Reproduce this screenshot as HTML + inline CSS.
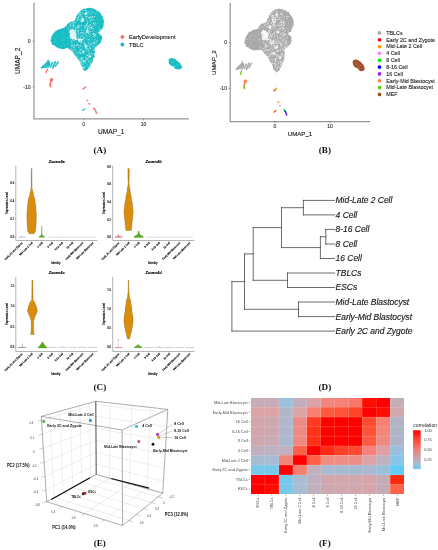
<!DOCTYPE html>
<html><head><meta charset="utf-8"><title>Figure</title>
<style>html,body{margin:0;padding:0;background:#fff}svg{display:block}</style></head>
<body><svg width="438" height="550" viewBox="0 0 438 550">
<defs><filter id="soft" x="0" y="0" width="438" height="550" filterUnits="userSpaceOnUse"><feGaussianBlur stdDeviation="0.4"/></filter></defs>
<rect width="438" height="550" fill="#fff"/>
<g filter="url(#soft)">
<path d="M50.3 40.4 L51.1 39.0 L51.1 38.3 L51.5 37.7 L51.2 36.1 L52.4 35.4 L52.9 34.0 L53.2 33.6 L53.8 33.1 L55.2 31.5 L55.2 31.2 L56.9 30.6 L57.2 30.1 L58.0 29.4 L59.3 29.4 L60.2 28.8 L61.1 28.7 L62.2 27.9 L63.6 28.0 L64.4 27.2 L65.5 26.9 L65.6 25.4 L66.8 24.9 L67.7 23.7 L68.4 23.4 L68.7 22.8 L69.9 22.5 L70.5 22.0 L71.0 21.5 L72.7 21.4 L73.2 21.0 L74.8 20.6 L74.9 19.5 L75.4 19.0 L75.8 17.8 L76.2 16.7 L76.2 16.1 L77.4 14.8 L77.6 13.4 L78.4 13.0 L79.4 11.9 L80.3 10.9 L80.8 10.8 L81.8 9.9 L82.5 9.4 L84.0 8.5 L84.8 9.0 L85.7 8.7 L86.6 8.2 L87.3 7.9 L87.8 8.3 L89.2 7.7 L90.1 7.9 L90.9 7.8 L92.0 8.3 L93.1 8.5 L93.6 8.6 L94.7 9.3 L96.2 10.0 L97.0 10.5 L97.3 11.0 L98.6 10.8 L98.6 11.4 L99.9 12.3 L100.0 13.3 L100.9 13.5 L101.2 14.7 L101.7 15.3 L102.6 16.3 L102.7 17.1 L102.8 18.0 L103.6 18.8 L103.6 20.4 L104.0 20.7 L104.2 22.3 L103.7 22.6 L103.6 24.3 L103.4 25.3 L103.7 26.2 L102.8 27.6 L102.8 28.1 L101.9 29.1 L101.2 29.7 L100.4 30.5 L99.4 30.8 L99.5 31.9 L98.2 32.5 L97.4 33.1 L98.6 33.2 L98.9 33.4 L100.2 33.9 L100.9 35.3 L101.3 35.5 L102.2 37.0 L102.2 37.6 L102.0 38.5 L101.6 39.7 L101.6 40.2 L101.0 41.5 L100.7 42.2 L100.2 43.3 L100.3 43.4 L98.7 44.3 L98.5 45.5 L97.1 45.6 L96.4 46.7 L95.7 46.8 L94.7 47.7 L94.5 48.9 L94.3 49.6 L94.2 50.1 L95.0 51.1 L94.9 52.5 L95.0 53.3 L94.4 54.3 L94.7 55.8 L94.6 57.1 L93.5 57.9 L93.2 58.6 L92.8 60.4 L93.0 61.3 L92.2 62.0 L92.2 62.6 L91.6 63.4 L90.6 64.2 L90.9 65.3 L90.4 66.0 L89.3 67.1 L89.2 67.2 L88.5 68.2 L87.5 69.7 L86.4 70.1 L86.2 71.1 L84.6 70.4 L83.9 70.4 L83.1 69.6 L82.7 68.7 L82.7 67.1 L81.6 66.3 L81.0 65.5 L80.5 63.9 L80.8 63.1 L80.0 62.3 L79.2 61.1 L79.2 61.1 L78.7 59.5 L77.5 59.1 L77.6 58.2 L76.8 57.5 L75.8 56.6 L75.2 55.5 L74.3 54.6 L74.4 53.9 L73.3 53.1 L72.9 52.1 L71.6 51.2 L70.8 50.8 L70.6 49.7 L69.4 49.4 L68.8 48.9 L67.8 47.8 L66.6 48.0 L65.8 48.2 L64.2 48.9 L63.3 49.1 L62.4 49.3 L61.0 49.0 L60.5 48.4 L59.6 48.2 L58.4 48.6 L57.6 47.6 L56.0 47.3 L55.8 46.6 L54.7 45.8 L53.7 45.1 L52.3 45.0 L52.0 44.2 L51.6 43.1 L51.0 41.7 L50.6 40.7Z" fill="#1fbec5"/>
<g fill="#fff" opacity="0.9"><circle cx="74.5" cy="36.2" r="0.40"/><circle cx="75.3" cy="35.0" r="0.52"/><circle cx="75.6" cy="34.0" r="0.46"/><circle cx="71.6" cy="32.0" r="0.31"/><circle cx="74.0" cy="33.6" r="0.53"/><circle cx="70.0" cy="30.6" r="0.40"/><circle cx="75.4" cy="33.4" r="0.46"/><circle cx="73.7" cy="31.7" r="0.30"/><circle cx="73.1" cy="34.5" r="0.56"/><circle cx="72.4" cy="36.4" r="0.59"/><circle cx="70.8" cy="34.4" r="0.49"/><circle cx="70.7" cy="33.5" r="0.52"/><circle cx="76.1" cy="38.8" r="0.41"/><circle cx="75.0" cy="38.4" r="0.42"/><circle cx="74.4" cy="38.0" r="0.45"/><circle cx="74.4" cy="36.9" r="0.54"/><circle cx="75.7" cy="38.5" r="0.68"/><circle cx="73.4" cy="31.1" r="0.40"/><circle cx="70.6" cy="35.2" r="0.60"/><circle cx="74.6" cy="32.9" r="0.51"/><circle cx="70.2" cy="36.8" r="0.32"/><circle cx="73.9" cy="32.1" r="0.67"/><circle cx="75.0" cy="38.0" r="0.56"/><circle cx="74.4" cy="33.9" r="0.67"/><circle cx="75.2" cy="33.8" r="0.37"/><circle cx="71.5" cy="30.6" r="0.66"/><circle cx="73.6" cy="33.5" r="0.35"/><circle cx="71.2" cy="31.9" r="0.60"/><circle cx="72.4" cy="29.5" r="0.55"/><circle cx="73.7" cy="37.9" r="0.38"/><circle cx="71.1" cy="34.9" r="0.41"/><circle cx="73.5" cy="31.9" r="0.57"/><circle cx="75.1" cy="37.6" r="0.69"/><circle cx="73.2" cy="34.4" r="0.64"/><circle cx="75.0" cy="35.2" r="0.45"/><circle cx="71.1" cy="30.4" r="0.62"/><circle cx="74.9" cy="39.3" r="0.35"/><circle cx="72.9" cy="35.2" r="0.42"/><circle cx="72.9" cy="33.0" r="0.51"/><circle cx="72.5" cy="32.4" r="0.46"/><circle cx="75.1" cy="36.3" r="0.50"/><circle cx="74.0" cy="33.2" r="0.38"/><circle cx="73.6" cy="38.4" r="0.63"/><circle cx="72.5" cy="37.9" r="0.46"/><circle cx="71.3" cy="31.1" r="0.55"/><circle cx="73.1" cy="33.0" r="0.30"/><circle cx="72.0" cy="33.7" r="0.46"/><circle cx="75.7" cy="35.3" r="0.59"/><circle cx="76.0" cy="37.0" r="0.50"/><circle cx="74.8" cy="35.9" r="0.56"/><circle cx="73.9" cy="33.5" r="0.55"/><circle cx="75.1" cy="38.0" r="0.61"/><circle cx="75.3" cy="35.5" r="0.44"/><circle cx="71.0" cy="36.6" r="0.65"/><circle cx="73.2" cy="30.9" r="0.63"/><circle cx="72.7" cy="34.1" r="0.32"/><circle cx="72.9" cy="37.0" r="0.47"/><circle cx="71.7" cy="36.1" r="0.31"/><circle cx="74.4" cy="33.4" r="0.58"/><circle cx="73.7" cy="31.5" r="0.38"/><circle cx="75.9" cy="32.1" r="0.33"/><circle cx="75.5" cy="34.7" r="0.45"/><circle cx="72.9" cy="36.9" r="0.37"/><circle cx="74.1" cy="36.6" r="0.63"/><circle cx="71.0" cy="35.6" r="0.39"/><circle cx="73.3" cy="31.1" r="0.62"/><circle cx="75.7" cy="32.7" r="0.39"/><circle cx="71.4" cy="33.7" r="0.60"/><circle cx="75.1" cy="31.3" r="0.55"/><circle cx="74.7" cy="35.5" r="0.40"/><circle cx="73.1" cy="30.7" r="0.36"/><circle cx="74.6" cy="33.0" r="0.60"/><circle cx="70.8" cy="36.7" r="0.59"/><circle cx="71.3" cy="30.4" r="0.46"/><circle cx="72.8" cy="30.3" r="0.37"/><circle cx="75.3" cy="39.2" r="0.55"/><circle cx="71.6" cy="37.9" r="0.35"/><circle cx="74.4" cy="30.3" r="0.46"/><circle cx="72.8" cy="33.2" r="0.37"/><circle cx="70.7" cy="37.7" r="0.49"/><circle cx="73.5" cy="31.5" r="0.59"/><circle cx="71.5" cy="35.4" r="0.66"/><circle cx="75.2" cy="38.1" r="0.43"/><circle cx="71.9" cy="35.3" r="0.67"/><circle cx="72.1" cy="38.4" r="0.60"/><circle cx="71.9" cy="30.6" r="0.49"/><circle cx="75.5" cy="38.6" r="0.31"/><circle cx="74.8" cy="36.4" r="0.64"/><circle cx="74.1" cy="33.3" r="0.55"/><circle cx="70.8" cy="29.9" r="0.67"/><circle cx="73.6" cy="32.9" r="0.54"/><circle cx="73.3" cy="34.7" r="0.32"/><circle cx="71.7" cy="33.6" r="0.38"/><circle cx="75.9" cy="33.7" r="0.56"/><circle cx="74.5" cy="37.0" r="0.59"/><circle cx="74.8" cy="31.9" r="0.69"/><circle cx="75.7" cy="38.1" r="0.32"/><circle cx="72.6" cy="33.1" r="0.69"/><circle cx="72.4" cy="30.6" r="0.46"/><circle cx="74.5" cy="38.4" r="0.31"/><circle cx="73.0" cy="30.2" r="0.62"/><circle cx="71.9" cy="36.8" r="0.43"/><circle cx="75.3" cy="38.1" r="0.42"/><circle cx="72.3" cy="31.8" r="0.52"/><circle cx="71.5" cy="32.8" r="0.61"/><circle cx="74.6" cy="37.9" r="0.58"/><circle cx="75.5" cy="32.3" r="0.36"/><circle cx="71.8" cy="34.7" r="0.34"/><circle cx="71.6" cy="35.2" r="0.32"/><circle cx="75.3" cy="36.0" r="0.43"/><circle cx="71.3" cy="32.9" r="0.43"/><circle cx="74.8" cy="34.5" r="0.51"/><circle cx="71.5" cy="32.7" r="0.33"/><circle cx="76.1" cy="38.9" r="0.69"/><circle cx="75.3" cy="38.8" r="0.67"/><circle cx="73.0" cy="35.2" r="0.70"/><circle cx="75.1" cy="36.5" r="0.60"/><circle cx="74.0" cy="33.4" r="0.49"/><circle cx="70.2" cy="30.8" r="0.57"/><circle cx="70.4" cy="33.5" r="0.59"/><circle cx="73.2" cy="32.0" r="0.34"/><circle cx="71.0" cy="35.8" r="0.51"/><circle cx="75.6" cy="35.9" r="0.37"/><circle cx="71.8" cy="38.0" r="0.58"/><circle cx="71.1" cy="38.5" r="0.54"/><circle cx="75.7" cy="38.5" r="0.47"/><circle cx="74.2" cy="34.9" r="0.68"/><circle cx="75.2" cy="36.8" r="0.63"/><circle cx="70.5" cy="37.0" r="0.61"/><circle cx="73.0" cy="34.3" r="0.46"/><circle cx="75.9" cy="37.5" r="0.53"/><circle cx="72.5" cy="31.3" r="0.42"/><circle cx="69.8" cy="32.4" r="0.65"/><circle cx="74.8" cy="39.3" r="0.52"/><circle cx="73.4" cy="35.0" r="0.51"/><circle cx="73.2" cy="37.7" r="0.68"/><circle cx="72.1" cy="35.8" r="0.42"/><circle cx="71.3" cy="34.5" r="0.53"/><circle cx="70.2" cy="35.9" r="0.70"/><circle cx="74.7" cy="35.1" r="0.45"/><circle cx="76.0" cy="38.8" r="0.64"/><circle cx="71.9" cy="34.1" r="0.62"/><circle cx="71.8" cy="37.0" r="0.49"/><circle cx="71.6" cy="34.0" r="0.35"/><circle cx="71.7" cy="33.6" r="0.31"/><circle cx="70.3" cy="32.0" r="0.64"/><circle cx="73.6" cy="32.3" r="0.70"/><circle cx="70.9" cy="34.6" r="0.60"/><circle cx="74.4" cy="33.8" r="0.61"/><circle cx="72.7" cy="36.7" r="0.50"/><circle cx="72.1" cy="36.8" r="0.63"/><circle cx="73.1" cy="32.9" r="0.68"/><circle cx="73.3" cy="33.6" r="0.57"/><circle cx="69.8" cy="32.0" r="0.41"/><circle cx="72.7" cy="37.5" r="0.64"/><circle cx="75.1" cy="36.3" r="0.33"/><circle cx="72.0" cy="36.2" r="0.42"/><circle cx="73.0" cy="33.6" r="0.66"/><circle cx="73.2" cy="31.5" r="0.60"/><circle cx="71.6" cy="34.3" r="0.30"/><circle cx="71.0" cy="34.9" r="0.48"/><circle cx="74.9" cy="38.0" r="0.39"/><circle cx="71.1" cy="36.6" r="0.46"/><circle cx="69.9" cy="31.3" r="0.52"/><circle cx="73.1" cy="35.6" r="0.36"/><circle cx="79.9" cy="39.3" r="0.58"/><circle cx="79.4" cy="38.9" r="0.45"/><circle cx="80.1" cy="39.6" r="0.54"/><circle cx="80.9" cy="40.6" r="0.32"/><circle cx="79.6" cy="41.4" r="0.56"/><circle cx="79.6" cy="40.4" r="0.43"/><circle cx="78.9" cy="38.5" r="0.40"/><circle cx="78.8" cy="40.6" r="0.58"/><circle cx="80.5" cy="41.4" r="0.39"/><circle cx="79.2" cy="40.8" r="0.65"/><circle cx="78.6" cy="39.4" r="0.55"/><circle cx="78.8" cy="39.0" r="0.57"/><circle cx="81.9" cy="39.6" r="0.54"/><circle cx="80.3" cy="37.9" r="0.43"/><circle cx="79.0" cy="39.1" r="0.61"/><circle cx="78.9" cy="39.4" r="0.41"/><circle cx="79.0" cy="39.9" r="0.67"/><circle cx="80.7" cy="39.1" r="0.57"/><circle cx="79.5" cy="40.5" r="0.43"/><circle cx="81.8" cy="39.6" r="0.62"/><circle cx="80.7" cy="42.2" r="0.54"/><circle cx="81.5" cy="39.9" r="0.57"/><circle cx="80.7" cy="40.5" r="0.53"/><circle cx="82.2" cy="19.4" r="0.66"/><circle cx="82.5" cy="20.1" r="0.32"/><circle cx="82.1" cy="18.4" r="0.39"/><circle cx="81.8" cy="20.1" r="0.40"/><circle cx="81.3" cy="20.0" r="0.49"/><circle cx="81.8" cy="18.1" r="0.45"/><circle cx="82.5" cy="20.1" r="0.52"/><circle cx="83.1" cy="20.9" r="0.57"/><circle cx="82.6" cy="18.3" r="0.67"/><circle cx="81.2" cy="21.5" r="0.64"/><circle cx="81.5" cy="21.7" r="0.36"/><circle cx="83.1" cy="19.4" r="0.48"/><circle cx="80.9" cy="20.4" r="0.41"/><circle cx="82.6" cy="21.3" r="0.54"/><circle cx="83.4" cy="20.6" r="0.45"/><circle cx="82.2" cy="21.7" r="0.48"/><circle cx="82.9" cy="20.4" r="0.47"/><circle cx="83.4" cy="19.5" r="0.54"/><circle cx="77.3" cy="26.0" r="0.31"/><circle cx="77.5" cy="26.1" r="0.44"/><circle cx="77.8" cy="27.3" r="0.40"/><circle cx="78.5" cy="25.6" r="0.36"/><circle cx="77.9" cy="27.5" r="0.44"/><circle cx="78.2" cy="25.6" r="0.42"/><circle cx="79.1" cy="25.9" r="0.58"/><circle cx="78.7" cy="26.2" r="0.32"/><circle cx="78.7" cy="27.6" r="0.37"/><circle cx="78.7" cy="26.1" r="0.44"/><circle cx="78.1" cy="27.4" r="0.37"/><circle cx="78.7" cy="27.2" r="0.48"/><circle cx="85.7" cy="45.8" r="0.61"/><circle cx="86.3" cy="44.7" r="0.48"/><circle cx="85.9" cy="46.1" r="0.67"/><circle cx="85.5" cy="44.4" r="0.31"/><circle cx="86.4" cy="46.4" r="0.62"/><circle cx="85.3" cy="44.6" r="0.69"/><circle cx="86.1" cy="46.6" r="0.67"/><circle cx="85.9" cy="45.4" r="0.30"/><circle cx="85.4" cy="44.9" r="0.61"/><circle cx="85.0" cy="46.1" r="0.51"/><circle cx="85.6" cy="46.9" r="0.67"/><circle cx="86.3" cy="46.5" r="0.58"/><circle cx="83.7" cy="52.0" r="0.40"/><circle cx="83.7" cy="51.5" r="0.52"/><circle cx="83.7" cy="51.8" r="0.69"/><circle cx="82.9" cy="51.6" r="0.54"/><circle cx="83.0" cy="52.0" r="0.48"/><circle cx="83.4" cy="51.6" r="0.37"/><circle cx="83.2" cy="51.5" r="0.38"/><circle cx="84.1" cy="51.4" r="0.36"/><circle cx="83.5" cy="53.1" r="0.61"/><circle cx="83.7" cy="52.7" r="0.43"/><circle cx="82.6" cy="51.1" r="0.44"/><circle cx="86.7" cy="31.2" r="0.36"/><circle cx="86.3" cy="30.5" r="0.38"/><circle cx="87.9" cy="31.4" r="0.38"/><circle cx="87.0" cy="32.6" r="0.53"/><circle cx="87.3" cy="30.9" r="0.38"/><circle cx="87.5" cy="29.9" r="0.61"/><circle cx="86.9" cy="31.9" r="0.54"/><circle cx="86.3" cy="31.4" r="0.33"/><circle cx="86.6" cy="30.9" r="0.41"/><circle cx="86.9" cy="32.5" r="0.39"/><circle cx="87.7" cy="30.8" r="0.51"/><circle cx="88.8" cy="56.4" r="0.42"/><circle cx="90.0" cy="56.8" r="0.55"/><circle cx="89.9" cy="55.8" r="0.32"/><circle cx="90.1" cy="55.9" r="0.62"/><circle cx="90.3" cy="56.9" r="0.34"/><circle cx="90.1" cy="56.9" r="0.40"/><circle cx="88.8" cy="56.5" r="0.35"/><circle cx="90.0" cy="56.2" r="0.67"/><circle cx="88.7" cy="57.1" r="0.40"/><circle cx="85.0" cy="14.0" r="0.45"/><circle cx="85.6" cy="13.7" r="0.41"/><circle cx="85.9" cy="13.8" r="0.67"/><circle cx="85.6" cy="14.3" r="0.69"/><circle cx="86.1" cy="13.2" r="0.41"/><circle cx="84.9" cy="13.5" r="0.48"/><circle cx="86.2" cy="13.5" r="0.67"/><circle cx="86.0" cy="12.3" r="0.47"/></g>
<g fill="#fff" opacity="0.8"><circle cx="81.5" cy="65.5" r="0.47"/><circle cx="72.7" cy="39.6" r="0.44"/><circle cx="72.9" cy="30.9" r="0.57"/><circle cx="82.0" cy="58.4" r="0.32"/><circle cx="83.5" cy="67.5" r="0.56"/><circle cx="88.6" cy="32.9" r="0.59"/><circle cx="82.5" cy="64.2" r="0.45"/><circle cx="86.6" cy="28.4" r="0.31"/><circle cx="86.6" cy="59.4" r="0.35"/><circle cx="93.1" cy="34.1" r="0.62"/><circle cx="93.7" cy="43.4" r="0.29"/><circle cx="86.1" cy="10.8" r="0.58"/><circle cx="77.8" cy="31.4" r="0.45"/><circle cx="88.3" cy="43.8" r="0.43"/><circle cx="88.2" cy="59.1" r="0.42"/><circle cx="83.5" cy="57.0" r="0.25"/><circle cx="71.6" cy="28.9" r="0.33"/><circle cx="77.1" cy="39.5" r="0.55"/><circle cx="87.3" cy="12.2" r="0.27"/><circle cx="88.1" cy="57.6" r="0.35"/><circle cx="87.7" cy="14.3" r="0.31"/><circle cx="75.9" cy="52.1" r="0.35"/><circle cx="73.4" cy="26.1" r="0.43"/><circle cx="91.8" cy="27.5" r="0.57"/><circle cx="68.6" cy="28.3" r="0.57"/><circle cx="70.7" cy="35.6" r="0.38"/><circle cx="92.2" cy="11.7" r="0.37"/><circle cx="92.2" cy="61.4" r="0.27"/><circle cx="86.6" cy="48.5" r="0.57"/><circle cx="75.3" cy="21.4" r="0.27"/><circle cx="99.7" cy="29.4" r="0.52"/><circle cx="76.1" cy="38.4" r="0.39"/><circle cx="79.7" cy="47.9" r="0.32"/><circle cx="72.4" cy="49.7" r="0.36"/><circle cx="78.0" cy="14.3" r="0.41"/><circle cx="90.6" cy="56.6" r="0.60"/><circle cx="95.1" cy="42.7" r="0.45"/><circle cx="83.5" cy="37.7" r="0.50"/><circle cx="86.1" cy="59.7" r="0.42"/><circle cx="82.5" cy="58.3" r="0.50"/><circle cx="84.4" cy="42.7" r="0.55"/><circle cx="87.3" cy="25.0" r="0.36"/><circle cx="87.2" cy="12.7" r="0.42"/><circle cx="90.5" cy="63.7" r="0.51"/><circle cx="87.9" cy="32.3" r="0.41"/><circle cx="88.5" cy="30.7" r="0.54"/><circle cx="92.0" cy="27.8" r="0.26"/><circle cx="77.8" cy="44.2" r="0.54"/><circle cx="88.6" cy="17.4" r="0.51"/><circle cx="90.5" cy="20.6" r="0.53"/><circle cx="83.6" cy="43.3" r="0.39"/><circle cx="76.3" cy="34.4" r="0.44"/><circle cx="82.2" cy="60.2" r="0.28"/><circle cx="87.3" cy="45.8" r="0.48"/><circle cx="74.5" cy="32.9" r="0.33"/><circle cx="92.0" cy="61.0" r="0.25"/><circle cx="90.7" cy="27.8" r="0.43"/><circle cx="89.6" cy="11.8" r="0.39"/><circle cx="85.4" cy="60.7" r="0.44"/><circle cx="77.1" cy="45.0" r="0.47"/><circle cx="76.2" cy="41.8" r="0.35"/><circle cx="83.2" cy="39.1" r="0.57"/><circle cx="92.2" cy="53.5" r="0.62"/><circle cx="75.3" cy="31.6" r="0.34"/><circle cx="84.8" cy="29.3" r="0.26"/><circle cx="73.0" cy="27.1" r="0.45"/><circle cx="74.8" cy="23.5" r="0.33"/><circle cx="81.8" cy="29.2" r="0.40"/><circle cx="88.4" cy="54.2" r="0.33"/><circle cx="96.7" cy="18.5" r="0.31"/><circle cx="86.6" cy="35.7" r="0.54"/><circle cx="89.3" cy="16.9" r="0.32"/><circle cx="92.1" cy="16.7" r="0.60"/><circle cx="94.4" cy="22.8" r="0.36"/><circle cx="74.8" cy="34.5" r="0.34"/><circle cx="78.2" cy="36.3" r="0.57"/><circle cx="89.1" cy="45.7" r="0.57"/><circle cx="79.5" cy="34.7" r="0.34"/><circle cx="97.0" cy="40.9" r="0.59"/><circle cx="92.4" cy="31.5" r="0.42"/><circle cx="78.3" cy="33.0" r="0.42"/><circle cx="71.9" cy="42.9" r="0.57"/><circle cx="90.9" cy="18.7" r="0.42"/><circle cx="88.0" cy="17.8" r="0.28"/><circle cx="87.4" cy="23.7" r="0.49"/><circle cx="76.8" cy="34.8" r="0.45"/><circle cx="84.7" cy="67.1" r="0.52"/><circle cx="72.7" cy="30.6" r="0.61"/><circle cx="83.8" cy="60.5" r="0.57"/><circle cx="93.4" cy="46.4" r="0.50"/><circle cx="78.0" cy="17.0" r="0.60"/><circle cx="78.6" cy="12.9" r="0.60"/><circle cx="90.4" cy="10.4" r="0.29"/><circle cx="70.7" cy="31.4" r="0.58"/><circle cx="70.9" cy="23.2" r="0.37"/><circle cx="83.9" cy="62.3" r="0.45"/><circle cx="96.5" cy="43.7" r="0.43"/><circle cx="83.9" cy="30.6" r="0.41"/><circle cx="92.7" cy="17.7" r="0.33"/><circle cx="71.7" cy="31.0" r="0.27"/><circle cx="78.6" cy="45.4" r="0.50"/><circle cx="72.9" cy="29.9" r="0.46"/><circle cx="77.1" cy="37.9" r="0.26"/><circle cx="77.2" cy="53.0" r="0.46"/><circle cx="80.5" cy="14.1" r="0.27"/><circle cx="89.0" cy="59.8" r="0.26"/><circle cx="72.3" cy="29.0" r="0.37"/><circle cx="83.1" cy="65.1" r="0.36"/><circle cx="88.2" cy="12.8" r="0.41"/><circle cx="88.9" cy="42.8" r="0.46"/><circle cx="87.3" cy="49.2" r="0.37"/><circle cx="78.3" cy="33.0" r="0.44"/><circle cx="85.8" cy="60.7" r="0.40"/><circle cx="81.7" cy="58.3" r="0.61"/><circle cx="74.5" cy="52.4" r="0.34"/><circle cx="91.9" cy="12.2" r="0.44"/><circle cx="85.9" cy="50.6" r="0.59"/><circle cx="93.8" cy="42.7" r="0.43"/><circle cx="92.0" cy="19.6" r="0.47"/><circle cx="94.8" cy="35.4" r="0.50"/><circle cx="89.2" cy="27.6" r="0.28"/><circle cx="92.5" cy="30.7" r="0.31"/><circle cx="81.5" cy="58.3" r="0.60"/><circle cx="85.9" cy="66.3" r="0.31"/><circle cx="83.2" cy="10.5" r="0.34"/><circle cx="83.8" cy="67.3" r="0.62"/><circle cx="70.3" cy="25.2" r="0.62"/><circle cx="77.5" cy="20.5" r="0.59"/><circle cx="87.6" cy="27.9" r="0.46"/><circle cx="81.0" cy="36.6" r="0.45"/><circle cx="71.9" cy="45.7" r="0.60"/><circle cx="86.7" cy="55.7" r="0.35"/><circle cx="88.9" cy="52.6" r="0.48"/><circle cx="81.4" cy="57.3" r="0.41"/><circle cx="72.4" cy="36.0" r="0.57"/><circle cx="72.1" cy="44.7" r="0.32"/><circle cx="93.2" cy="42.3" r="0.55"/><circle cx="81.5" cy="61.6" r="0.29"/><circle cx="67.9" cy="37.2" r="0.42"/><circle cx="83.8" cy="19.5" r="0.45"/><circle cx="81.0" cy="61.5" r="0.52"/><circle cx="82.7" cy="18.6" r="0.30"/><circle cx="73.6" cy="36.3" r="0.57"/><circle cx="79.1" cy="28.7" r="0.35"/><circle cx="91.9" cy="27.6" r="0.47"/><circle cx="77.0" cy="53.7" r="0.31"/><circle cx="83.1" cy="35.9" r="0.42"/><circle cx="84.8" cy="41.1" r="0.37"/><circle cx="85.6" cy="46.9" r="0.52"/><circle cx="77.2" cy="44.4" r="0.42"/><circle cx="83.0" cy="32.9" r="0.45"/><circle cx="73.6" cy="24.0" r="0.32"/><circle cx="86.8" cy="24.2" r="0.54"/><circle cx="78.0" cy="31.0" r="0.47"/><circle cx="89.1" cy="33.7" r="0.54"/><circle cx="79.9" cy="50.5" r="0.50"/><circle cx="72.1" cy="32.5" r="0.58"/><circle cx="93.3" cy="58.7" r="0.33"/><circle cx="90.9" cy="27.0" r="0.41"/><circle cx="71.4" cy="40.9" r="0.52"/><circle cx="71.0" cy="35.3" r="0.45"/><circle cx="88.3" cy="50.6" r="0.61"/><circle cx="100.0" cy="19.3" r="0.29"/><circle cx="86.5" cy="17.5" r="0.30"/><circle cx="77.7" cy="56.0" r="0.51"/><circle cx="77.1" cy="18.0" r="0.38"/><circle cx="72.1" cy="23.6" r="0.43"/><circle cx="83.1" cy="63.5" r="0.28"/><circle cx="84.7" cy="42.8" r="0.30"/><circle cx="78.6" cy="18.0" r="0.58"/><circle cx="78.2" cy="13.8" r="0.43"/><circle cx="84.5" cy="61.5" r="0.52"/><circle cx="94.5" cy="54.7" r="0.29"/><circle cx="80.0" cy="16.1" r="0.52"/><circle cx="89.3" cy="18.3" r="0.39"/><circle cx="78.2" cy="53.5" r="0.40"/><circle cx="78.9" cy="41.8" r="0.33"/><circle cx="89.4" cy="36.5" r="0.48"/><circle cx="85.9" cy="13.1" r="0.55"/><circle cx="93.5" cy="34.1" r="0.57"/><circle cx="90.3" cy="48.3" r="0.59"/><circle cx="93.3" cy="43.9" r="0.27"/><circle cx="81.9" cy="49.9" r="0.44"/><circle cx="86.5" cy="30.3" r="0.56"/><circle cx="74.6" cy="47.1" r="0.41"/><circle cx="70.5" cy="26.7" r="0.42"/><circle cx="81.1" cy="37.2" r="0.47"/><circle cx="85.1" cy="33.8" r="0.59"/><circle cx="84.3" cy="37.7" r="0.52"/><circle cx="81.3" cy="13.9" r="0.47"/><circle cx="83.9" cy="62.8" r="0.34"/><circle cx="76.8" cy="45.5" r="0.46"/><circle cx="85.6" cy="32.7" r="0.27"/><circle cx="86.8" cy="26.1" r="0.48"/><circle cx="81.3" cy="25.6" r="0.62"/><circle cx="82.7" cy="41.0" r="0.35"/><circle cx="72.1" cy="51.0" r="0.42"/><circle cx="86.5" cy="20.6" r="0.44"/><circle cx="89.1" cy="54.1" r="0.50"/><circle cx="80.5" cy="49.7" r="0.47"/><circle cx="82.7" cy="46.6" r="0.36"/><circle cx="94.9" cy="25.0" r="0.54"/><circle cx="84.9" cy="27.6" r="0.29"/><circle cx="95.8" cy="35.9" r="0.52"/><circle cx="87.8" cy="13.8" r="0.42"/><circle cx="66.4" cy="25.4" r="0.51"/><circle cx="85.8" cy="16.5" r="0.50"/><circle cx="87.2" cy="47.0" r="0.50"/><circle cx="84.5" cy="44.2" r="0.50"/><circle cx="85.4" cy="27.7" r="0.54"/><circle cx="90.2" cy="42.6" r="0.35"/><circle cx="96.0" cy="25.4" r="0.26"/><circle cx="87.4" cy="26.4" r="0.43"/><circle cx="81.3" cy="56.9" r="0.32"/><circle cx="92.9" cy="12.0" r="0.49"/><circle cx="94.8" cy="34.9" r="0.56"/><circle cx="78.4" cy="30.6" r="0.59"/><circle cx="78.8" cy="60.3" r="0.37"/><circle cx="73.6" cy="24.9" r="0.51"/><circle cx="90.0" cy="62.1" r="0.54"/><circle cx="90.1" cy="32.1" r="0.26"/><circle cx="92.9" cy="36.5" r="0.57"/><circle cx="88.6" cy="61.4" r="0.51"/><circle cx="81.3" cy="39.9" r="0.29"/><circle cx="74.5" cy="43.3" r="0.32"/><circle cx="78.5" cy="47.3" r="0.47"/><circle cx="80.8" cy="53.8" r="0.48"/><circle cx="76.2" cy="45.7" r="0.49"/><circle cx="73.1" cy="25.7" r="0.47"/><circle cx="81.9" cy="53.5" r="0.36"/><circle cx="94.1" cy="33.6" r="0.61"/><circle cx="83.2" cy="58.8" r="0.34"/><circle cx="80.4" cy="14.9" r="0.50"/><circle cx="76.7" cy="27.9" r="0.45"/><circle cx="87.7" cy="59.3" r="0.57"/><circle cx="72.0" cy="46.4" r="0.57"/><circle cx="74.7" cy="45.0" r="0.62"/><circle cx="88.2" cy="50.7" r="0.36"/><circle cx="77.3" cy="27.5" r="0.25"/><circle cx="82.8" cy="60.7" r="0.54"/><circle cx="71.2" cy="24.0" r="0.31"/><circle cx="75.1" cy="21.7" r="0.31"/><circle cx="85.4" cy="63.0" r="0.57"/><circle cx="87.7" cy="28.3" r="0.59"/><circle cx="90.5" cy="28.0" r="0.33"/><circle cx="88.3" cy="39.7" r="0.54"/><circle cx="81.6" cy="14.8" r="0.28"/><circle cx="74.1" cy="40.4" r="0.51"/><circle cx="85.5" cy="10.6" r="0.60"/><circle cx="82.0" cy="41.3" r="0.32"/><circle cx="74.5" cy="22.4" r="0.47"/><circle cx="90.0" cy="48.8" r="0.26"/><circle cx="74.0" cy="37.6" r="0.56"/><circle cx="85.0" cy="60.7" r="0.45"/><circle cx="84.7" cy="26.2" r="0.32"/><circle cx="82.8" cy="32.9" r="0.58"/><circle cx="79.9" cy="61.1" r="0.52"/><circle cx="86.8" cy="58.3" r="0.58"/><circle cx="70.6" cy="33.8" r="0.39"/><circle cx="72.8" cy="51.0" r="0.60"/><circle cx="72.7" cy="40.2" r="0.45"/><circle cx="82.8" cy="13.1" r="0.56"/><circle cx="97.1" cy="10.9" r="0.56"/><circle cx="85.8" cy="57.1" r="0.60"/><circle cx="82.6" cy="39.7" r="0.39"/><circle cx="94.6" cy="43.8" r="0.56"/><circle cx="81.5" cy="64.6" r="0.38"/><circle cx="79.2" cy="46.0" r="0.29"/><circle cx="90.0" cy="44.8" r="0.55"/><circle cx="81.9" cy="39.7" r="0.58"/><circle cx="89.7" cy="26.0" r="0.47"/><circle cx="92.9" cy="59.0" r="0.30"/><circle cx="71.8" cy="49.9" r="0.51"/><circle cx="91.5" cy="38.4" r="0.39"/><circle cx="87.9" cy="48.4" r="0.33"/><circle cx="91.9" cy="19.9" r="0.39"/><circle cx="88.3" cy="55.1" r="0.42"/><circle cx="94.3" cy="37.4" r="0.50"/><circle cx="95.2" cy="42.6" r="0.46"/><circle cx="87.6" cy="49.5" r="0.26"/><circle cx="96.6" cy="23.8" r="0.38"/><circle cx="84.8" cy="46.0" r="0.31"/><circle cx="95.3" cy="22.9" r="0.50"/><circle cx="100.0" cy="35.4" r="0.47"/><circle cx="91.0" cy="33.8" r="0.44"/><circle cx="75.5" cy="29.5" r="0.59"/><circle cx="92.2" cy="19.4" r="0.41"/><circle cx="95.2" cy="39.5" r="0.44"/><circle cx="83.6" cy="20.0" r="0.62"/><circle cx="92.2" cy="26.6" r="0.38"/><circle cx="90.8" cy="60.5" r="0.45"/><circle cx="76.0" cy="30.8" r="0.45"/><circle cx="89.0" cy="25.3" r="0.57"/><circle cx="94.0" cy="24.6" r="0.26"/><circle cx="79.5" cy="20.0" r="0.29"/><circle cx="85.2" cy="48.0" r="0.54"/><circle cx="82.5" cy="53.0" r="0.33"/><circle cx="86.8" cy="16.4" r="0.58"/><circle cx="79.6" cy="14.8" r="0.55"/><circle cx="81.4" cy="30.3" r="0.41"/><circle cx="90.8" cy="52.2" r="0.41"/><circle cx="100.1" cy="43.4" r="0.30"/><circle cx="91.2" cy="58.8" r="0.29"/><circle cx="74.2" cy="45.8" r="0.59"/><circle cx="90.9" cy="54.8" r="0.36"/><circle cx="83.1" cy="50.8" r="0.26"/><circle cx="80.9" cy="59.8" r="0.59"/><circle cx="85.5" cy="37.3" r="0.32"/><circle cx="75.8" cy="51.8" r="0.40"/><circle cx="85.0" cy="25.7" r="0.61"/><circle cx="91.4" cy="28.1" r="0.50"/><circle cx="88.3" cy="26.8" r="0.54"/><circle cx="90.3" cy="35.5" r="0.47"/><circle cx="92.7" cy="28.3" r="0.58"/><circle cx="93.5" cy="50.3" r="0.53"/><circle cx="81.6" cy="49.8" r="0.49"/><circle cx="80.8" cy="52.7" r="0.57"/><circle cx="86.8" cy="54.2" r="0.38"/><circle cx="80.2" cy="12.4" r="0.59"/><circle cx="94.3" cy="40.0" r="0.48"/><circle cx="91.3" cy="43.8" r="0.61"/><circle cx="75.0" cy="49.4" r="0.54"/><circle cx="80.4" cy="18.5" r="0.31"/><circle cx="89.2" cy="39.2" r="0.49"/><circle cx="87.2" cy="65.4" r="0.40"/><circle cx="79.7" cy="52.3" r="0.55"/><circle cx="91.9" cy="19.3" r="0.48"/><circle cx="75.4" cy="25.9" r="0.34"/><circle cx="89.5" cy="56.2" r="0.29"/><circle cx="89.0" cy="12.5" r="0.40"/><circle cx="94.5" cy="16.6" r="0.59"/><circle cx="79.9" cy="39.7" r="0.54"/><circle cx="89.4" cy="28.9" r="0.57"/><circle cx="86.1" cy="15.8" r="0.28"/><circle cx="82.1" cy="16.8" r="0.61"/><circle cx="73.8" cy="47.2" r="0.54"/><circle cx="83.8" cy="61.4" r="0.60"/><circle cx="78.8" cy="51.1" r="0.28"/><circle cx="81.1" cy="49.0" r="0.35"/><circle cx="79.1" cy="54.0" r="0.33"/><circle cx="87.5" cy="23.3" r="0.56"/><circle cx="78.6" cy="17.4" r="0.50"/><circle cx="81.0" cy="46.2" r="0.29"/><circle cx="73.0" cy="22.1" r="0.56"/><circle cx="74.5" cy="30.1" r="0.57"/><circle cx="75.7" cy="22.7" r="0.41"/><circle cx="71.0" cy="48.7" r="0.50"/><circle cx="93.9" cy="19.4" r="0.35"/><circle cx="85.8" cy="18.7" r="0.33"/><circle cx="86.9" cy="10.9" r="0.26"/><circle cx="90.4" cy="25.1" r="0.59"/><circle cx="90.1" cy="31.5" r="0.55"/><circle cx="93.8" cy="29.9" r="0.47"/><circle cx="90.2" cy="64.8" r="0.53"/><circle cx="75.7" cy="30.5" r="0.28"/><circle cx="73.8" cy="37.4" r="0.38"/><circle cx="86.8" cy="65.1" r="0.31"/><circle cx="92.4" cy="54.8" r="0.45"/><circle cx="95.7" cy="34.6" r="0.48"/><circle cx="86.5" cy="58.8" r="0.43"/><circle cx="73.5" cy="27.9" r="0.46"/><circle cx="74.8" cy="47.6" r="0.36"/><circle cx="70.7" cy="29.3" r="0.37"/><circle cx="75.7" cy="28.0" r="0.59"/><circle cx="86.1" cy="38.8" r="0.35"/><circle cx="76.1" cy="56.4" r="0.37"/><circle cx="71.2" cy="32.5" r="0.50"/><circle cx="83.3" cy="19.8" r="0.58"/><circle cx="67.4" cy="43.8" r="0.37"/><circle cx="84.3" cy="27.7" r="0.40"/><circle cx="74.5" cy="30.6" r="0.41"/><circle cx="90.9" cy="40.2" r="0.26"/><circle cx="94.3" cy="53.3" r="0.55"/><circle cx="87.6" cy="22.1" r="0.54"/><circle cx="76.1" cy="19.6" r="0.26"/><circle cx="89.9" cy="48.3" r="0.39"/><circle cx="81.3" cy="62.8" r="0.62"/><circle cx="77.7" cy="44.1" r="0.43"/><circle cx="73.1" cy="39.7" r="0.28"/><circle cx="93.9" cy="33.5" r="0.49"/><circle cx="93.3" cy="23.7" r="0.60"/><circle cx="88.4" cy="49.4" r="0.33"/><circle cx="93.2" cy="26.4" r="0.35"/><circle cx="90.3" cy="27.7" r="0.36"/><circle cx="74.9" cy="22.1" r="0.27"/><circle cx="83.6" cy="10.2" r="0.39"/><circle cx="90.4" cy="14.2" r="0.54"/><circle cx="89.8" cy="47.2" r="0.45"/><circle cx="91.3" cy="22.8" r="0.40"/><circle cx="80.5" cy="45.8" r="0.61"/><circle cx="95.4" cy="13.1" r="0.40"/><circle cx="80.5" cy="19.2" r="0.28"/><circle cx="81.8" cy="41.6" r="0.57"/><circle cx="89.3" cy="21.1" r="0.47"/><circle cx="91.4" cy="39.0" r="0.33"/><circle cx="96.1" cy="41.2" r="0.26"/><circle cx="77.3" cy="19.4" r="0.49"/><circle cx="87.3" cy="32.5" r="0.35"/><circle cx="88.2" cy="31.8" r="0.53"/><circle cx="98.9" cy="27.5" r="0.40"/><circle cx="96.0" cy="45.8" r="0.36"/><circle cx="82.9" cy="18.9" r="0.46"/><circle cx="75.1" cy="55.0" r="0.33"/><circle cx="87.5" cy="55.5" r="0.55"/><circle cx="87.3" cy="38.2" r="0.32"/><circle cx="81.1" cy="32.7" r="0.58"/><circle cx="90.7" cy="63.0" r="0.46"/><circle cx="90.7" cy="17.1" r="0.57"/><circle cx="74.0" cy="49.9" r="0.39"/><circle cx="90.0" cy="22.8" r="0.29"/><circle cx="78.1" cy="39.3" r="0.55"/><circle cx="96.3" cy="31.9" r="0.46"/><circle cx="72.4" cy="39.2" r="0.50"/><circle cx="92.7" cy="16.9" r="0.61"/><circle cx="85.5" cy="10.3" r="0.36"/><circle cx="89.7" cy="17.4" r="0.52"/><circle cx="86.6" cy="25.6" r="0.55"/><circle cx="92.8" cy="44.9" r="0.33"/><circle cx="79.7" cy="59.2" r="0.31"/><circle cx="89.9" cy="24.2" r="0.32"/></g>
<g fill="#fff" opacity="0.7"><circle cx="83.8" cy="68.5" r="0.34"/><circle cx="91.3" cy="44.2" r="0.29"/><circle cx="54.3" cy="41.3" r="0.24"/><circle cx="81.2" cy="35.3" r="0.34"/><circle cx="81.7" cy="43.3" r="0.43"/><circle cx="80.5" cy="15.4" r="0.42"/><circle cx="90.8" cy="31.2" r="0.31"/><circle cx="80.9" cy="32.7" r="0.37"/><circle cx="97.5" cy="37.2" r="0.37"/><circle cx="75.7" cy="31.5" r="0.24"/><circle cx="61.1" cy="38.1" r="0.27"/><circle cx="61.4" cy="46.4" r="0.27"/><circle cx="95.8" cy="13.5" r="0.26"/><circle cx="73.3" cy="21.5" r="0.41"/><circle cx="67.0" cy="26.9" r="0.25"/><circle cx="55.8" cy="39.8" r="0.38"/><circle cx="50.9" cy="39.2" r="0.32"/><circle cx="80.2" cy="34.9" r="0.43"/><circle cx="82.7" cy="35.5" r="0.44"/><circle cx="84.5" cy="68.8" r="0.36"/><circle cx="63.8" cy="39.8" r="0.37"/><circle cx="102.5" cy="18.6" r="0.25"/><circle cx="88.3" cy="66.5" r="0.41"/><circle cx="94.2" cy="46.6" r="0.40"/><circle cx="91.7" cy="47.3" r="0.22"/><circle cx="79.1" cy="19.2" r="0.34"/><circle cx="79.9" cy="57.9" r="0.38"/><circle cx="103.8" cy="20.0" r="0.30"/><circle cx="96.3" cy="13.4" r="0.30"/><circle cx="84.4" cy="14.0" r="0.40"/><circle cx="91.7" cy="27.3" r="0.24"/><circle cx="62.1" cy="28.8" r="0.28"/><circle cx="72.7" cy="25.0" r="0.42"/><circle cx="77.4" cy="32.3" r="0.28"/><circle cx="73.1" cy="23.6" r="0.33"/><circle cx="74.0" cy="24.6" r="0.20"/><circle cx="89.0" cy="66.2" r="0.24"/><circle cx="80.6" cy="62.9" r="0.24"/><circle cx="88.2" cy="68.5" r="0.25"/><circle cx="98.3" cy="16.0" r="0.21"/><circle cx="95.9" cy="12.0" r="0.31"/><circle cx="89.4" cy="53.0" r="0.28"/><circle cx="57.4" cy="34.8" r="0.29"/><circle cx="74.6" cy="26.4" r="0.32"/><circle cx="77.5" cy="57.4" r="0.22"/><circle cx="93.2" cy="23.5" r="0.38"/><circle cx="94.3" cy="54.3" r="0.44"/><circle cx="84.0" cy="19.6" r="0.25"/><circle cx="68.2" cy="29.9" r="0.23"/><circle cx="94.2" cy="43.0" r="0.25"/><circle cx="93.7" cy="41.8" r="0.40"/><circle cx="88.8" cy="35.2" r="0.29"/><circle cx="99.1" cy="19.4" r="0.23"/><circle cx="63.8" cy="32.7" r="0.29"/><circle cx="68.0" cy="40.5" r="0.35"/><circle cx="87.3" cy="20.1" r="0.38"/><circle cx="83.9" cy="18.2" r="0.35"/><circle cx="64.6" cy="45.1" r="0.43"/><circle cx="88.8" cy="43.2" r="0.34"/><circle cx="63.6" cy="37.5" r="0.21"/></g>
<path d="M40.5 68.0 L41.1 67.2 L41.9 66.5 L42.0 66.2 L42.8 65.3 L43.2 64.9 L44.4 64.2 L44.7 63.7 L45.4 63.0 L46.1 62.5 L47.0 61.6 L47.4 60.4 L47.7 59.8 L48.3 59.0 L48.5 57.9 L48.2 59.0 L48.5 59.7 L49.0 60.4 L49.2 61.4 L49.9 61.7 L50.3 62.5 L50.2 63.4 L50.2 64.1 L50.5 65.4 L49.7 66.0 L49.2 66.6 L49.2 67.8 L48.2 67.6 L47.1 67.7 L46.3 67.8 L45.6 68.1 L44.0 67.9 L43.5 68.1 L42.4 68.4 L41.3 68.4Z" fill="#1fbec5"/>
<path d="M50.4 67.0 L52.5 62.7" stroke="#1fbec5" stroke-width="1.50" stroke-linecap="round"/>
<path d="M52.7 68.0 L55.3 61.8" stroke="#1fbec5" stroke-width="1.70" stroke-linecap="round"/>
<path d="M55.3 66.3 L58.1 62.0" stroke="#1fbec5" stroke-width="1.50" stroke-linecap="round"/>
<path d="M47.0 66.5 L49.5 63.0" stroke="#1fbec5" stroke-width="1.20" stroke-linecap="round"/>
<path d="M44.6 66.9 L46.6 64.4" stroke="#fff" stroke-width="0.35" opacity="0.7"/>
<path d="M47.3 67.4 L48.4 65.6" stroke="#fff" stroke-width="0.35" opacity="0.7"/>
<path d="M168.6 59.2 L170.3 58.5 L171.8 57.8 L172.5 58.5 L173.9 58.6 L174.9 58.7 L175.8 59.5 L176.4 60.3 L177.2 60.7 L178.3 62.0 L179.2 62.3 L180.3 63.5 L180.6 64.5 L181.4 65.3 L182.2 67.2 L181.5 68.4 L179.8 69.3 L178.1 69.4 L177.4 69.3 L176.4 69.2 L175.0 68.8 L174.2 67.7 L173.8 66.2 L172.5 66.2 L171.1 65.7 L169.8 64.5 L168.9 63.4 L168.7 62.1 L168.8 61.4Z" fill="#1fbec5"/>
<circle cx="172.6" cy="62.6" r="0.45" fill="#fff" opacity="0.7"/>
<circle cx="175.6" cy="66.6" r="0.45" fill="#fff" opacity="0.7"/>
<circle cx="177.6" cy="64.2" r="0.45" fill="#fff" opacity="0.7"/>
<path d="M47.5 69.0 L46.9 70.6" stroke="#f8766d" stroke-width="1.20" stroke-linecap="round"/>
<path d="M46.8 70.8 L46.2 72.9" stroke="#f8766d" stroke-width="1.20" stroke-linecap="round"/>
<circle cx="51.6" cy="79.8" r="1.70" fill="#f8766d"/>
<path d="M51.3 80.5 L50.0 84.6" stroke="#f8766d" stroke-width="1.70" stroke-linecap="round"/>
<path d="M50.0 84.8 L50.5 86.8" stroke="#f8766d" stroke-width="1.50" stroke-linecap="round"/>
<path d="M85.7 86.7 L84.0 88.2" stroke="#f8766d" stroke-width="1.30" stroke-linecap="round"/>
<path d="M83.8 88.4 L82.9 89.1" stroke="#f8766d" stroke-width="1.30" stroke-linecap="round"/>
<circle cx="87.4" cy="100.3" r="0.90" fill="#f8766d"/>
<circle cx="89.3" cy="103.8" r="0.95" fill="#f8766d"/>
<path d="M93.6 108.1 L94.6 109.2" stroke="#f8766d" stroke-width="1.50" stroke-linecap="round"/>
<path d="M95.0 109.6 L95.5 110.4" stroke="#f8766d" stroke-width="1.50" stroke-linecap="round"/>
<circle cx="95.9" cy="111.5" r="0.80" fill="#1fbec5"/>
<circle cx="96.4" cy="113.0" r="1.05" fill="#f8766d"/>
<path d="M82.7 110.3 L84.4 109.2" stroke="#1fbec5" stroke-width="1.30" stroke-linecap="round"/>
<circle cx="85.2" cy="108.5" r="0.60" fill="#f8766d"/>
<path d="M34 2.7 V118.9 H188.8" fill="none" stroke="#969696" stroke-width="1.2"/>
<path d="M32.6 41.3 H34.2 M32.6 86.7 H34.2 M83.6 118.7 V120.4 M143.5 118.7 V120.4" stroke="#666" stroke-width="0.6"/>
<g font-family="Liberation Sans, sans-serif" font-size="5.1" fill="#333" stroke="#333" stroke-width="0.12">
<text x="30.7" y="43.3" text-anchor="end">0</text><text x="30.7" y="88.8" text-anchor="end">-10</text>
<text x="83.6" y="126.1" text-anchor="middle">0</text><text x="143.5" y="126.1" text-anchor="middle">10</text></g>
<g font-family="Liberation Sans, sans-serif" font-size="6.1" fill="#222" stroke="#222" stroke-width="0.15">
<text x="111.2" y="133.7" text-anchor="middle" font-size="6.6">UMAP_1</text>
<text transform="translate(19.7 60.9) rotate(-90)" text-anchor="middle" font-size="6.6">UMAP_2</text></g>
<circle cx="122.4" cy="37" r="1.95" fill="#f8766d"/><circle cx="122.4" cy="44.5" r="1.95" fill="#1fbec5"/>
<g font-family="Liberation Sans, sans-serif" font-size="5.7" fill="#222" stroke="#222" stroke-width="0.12"><text x="129" y="39">EarlyDevelopment</text><text x="129" y="46.5">TBLC</text></g>
<text x="99.9" y="152.6" text-anchor="middle" font-family="Liberation Serif, serif" font-size="9.1" font-weight="bold" fill="#111">(A)</text>
<path d="M245.0 41.7 L244.4 40.0 L245.3 39.7 L245.4 38.4 L245.6 37.8 L246.0 36.3 L246.4 35.5 L247.1 35.0 L248.1 33.8 L248.4 32.8 L248.7 31.9 L250.0 31.6 L250.7 31.7 L251.7 30.9 L252.4 30.0 L253.4 29.8 L254.5 30.2 L255.5 29.1 L256.6 29.2 L257.3 28.9 L258.1 27.9 L258.4 27.1 L259.6 25.4 L260.1 25.0 L260.9 24.1 L262.0 23.6 L263.3 23.2 L264.4 22.9 L265.9 21.9 L266.6 21.8 L267.1 20.6 L267.0 19.6 L267.8 18.6 L268.4 17.9 L268.8 16.7 L269.2 15.9 L269.4 14.6 L270.2 13.6 L270.6 12.5 L271.5 12.5 L272.3 10.9 L273.4 11.0 L274.3 10.0 L275.0 9.4 L276.0 9.3 L276.8 9.5 L277.7 8.9 L279.6 8.6 L280.2 9.2 L281.5 9.0 L282.1 9.0 L283.1 9.6 L284.0 10.2 L284.8 10.3 L285.6 10.4 L287.1 10.8 L287.3 11.8 L288.3 11.7 L289.4 12.5 L289.1 13.4 L290.3 14.4 L290.4 14.7 L290.8 15.6 L291.9 16.7 L292.4 17.5 L292.8 18.3 L292.8 18.8 L293.3 19.9 L293.1 21.0 L293.9 21.7 L293.6 22.9 L293.6 23.7 L293.8 24.9 L293.3 26.1 L292.6 27.3 L292.3 27.8 L291.8 28.8 L291.4 30.2 L291.1 31.2 L290.7 31.9 L289.4 32.1 L288.4 33.0 L287.7 34.1 L288.7 34.3 L289.4 35.3 L289.9 35.6 L290.9 36.6 L291.8 37.5 L291.3 38.5 L291.5 39.5 L291.6 40.7 L291.2 41.8 L290.9 43.0 L291.1 43.6 L290.1 44.2 L289.8 44.6 L288.8 45.8 L287.8 46.1 L287.5 47.0 L286.4 48.1 L285.7 48.0 L285.1 48.6 L284.3 49.9 L284.5 50.5 L285.2 51.8 L284.5 52.6 L284.9 53.7 L284.7 54.8 L284.4 55.7 L284.6 57.4 L284.1 58.4 L283.9 59.3 L283.8 60.3 L283.8 61.4 L282.9 62.0 L282.4 63.5 L282.6 64.5 L282.2 64.6 L281.7 66.1 L281.3 66.6 L280.5 67.4 L280.5 68.0 L279.7 69.1 L279.6 70.2 L279.0 71.1 L277.6 71.5 L276.8 72.4 L276.0 72.3 L275.6 71.7 L274.9 70.3 L273.9 70.2 L273.3 68.7 L272.8 67.4 L273.1 67.3 L272.5 65.4 L271.7 64.5 L271.6 63.8 L270.9 62.9 L270.1 62.1 L270.4 61.4 L269.1 60.4 L269.1 59.3 L268.7 58.7 L268.0 57.8 L267.7 57.3 L266.7 55.8 L265.9 54.8 L265.4 54.6 L264.3 53.5 L263.9 52.5 L263.4 52.2 L262.5 51.0 L261.8 50.1 L260.7 49.6 L259.7 50.0 L258.2 50.0 L257.3 50.2 L256.8 50.3 L254.9 50.2 L254.5 50.6 L253.5 50.3 L252.0 50.1 L251.7 49.6 L251.0 49.3 L249.4 48.8 L249.2 47.8 L248.2 47.5 L246.7 47.0 L246.0 46.0 L245.5 44.8 L245.2 44.1 L244.5 43.6 L244.3 41.8Z" fill="#a9a9a9"/>
<g fill="#fff" opacity="0.9"><circle cx="264.8" cy="39.1" r="0.56"/><circle cx="266.8" cy="35.4" r="0.57"/><circle cx="263.8" cy="33.2" r="0.50"/><circle cx="266.8" cy="32.2" r="0.60"/><circle cx="267.0" cy="34.6" r="0.57"/><circle cx="267.0" cy="39.4" r="0.35"/><circle cx="262.5" cy="34.4" r="0.49"/><circle cx="263.5" cy="30.5" r="0.52"/><circle cx="265.2" cy="34.4" r="0.48"/><circle cx="267.6" cy="33.6" r="0.56"/><circle cx="264.8" cy="36.0" r="0.67"/><circle cx="263.5" cy="37.1" r="0.62"/><circle cx="266.1" cy="34.5" r="0.64"/><circle cx="264.2" cy="35.9" r="0.64"/><circle cx="267.1" cy="36.9" r="0.42"/><circle cx="263.0" cy="35.1" r="0.39"/><circle cx="264.1" cy="34.2" r="0.43"/><circle cx="263.4" cy="39.7" r="0.67"/><circle cx="264.5" cy="37.0" r="0.67"/><circle cx="263.7" cy="31.4" r="0.40"/><circle cx="262.7" cy="37.4" r="0.45"/><circle cx="263.9" cy="38.7" r="0.39"/><circle cx="267.2" cy="37.0" r="0.46"/><circle cx="267.3" cy="34.0" r="0.65"/><circle cx="268.0" cy="35.6" r="0.58"/><circle cx="266.8" cy="39.4" r="0.67"/><circle cx="266.8" cy="40.6" r="0.42"/><circle cx="265.8" cy="37.4" r="0.45"/><circle cx="264.2" cy="32.2" r="0.68"/><circle cx="263.9" cy="35.3" r="0.66"/><circle cx="263.9" cy="34.1" r="0.67"/><circle cx="267.7" cy="38.3" r="0.47"/><circle cx="265.3" cy="32.9" r="0.63"/><circle cx="264.1" cy="33.4" r="0.56"/><circle cx="262.4" cy="33.7" r="0.67"/><circle cx="262.0" cy="31.9" r="0.38"/><circle cx="263.1" cy="34.8" r="0.40"/><circle cx="263.8" cy="33.0" r="0.40"/><circle cx="265.7" cy="33.9" r="0.45"/><circle cx="264.4" cy="38.5" r="0.35"/><circle cx="265.1" cy="39.2" r="0.44"/><circle cx="266.9" cy="36.7" r="0.46"/><circle cx="264.8" cy="36.8" r="0.43"/><circle cx="267.4" cy="36.6" r="0.54"/><circle cx="264.6" cy="34.7" r="0.51"/><circle cx="263.5" cy="38.7" r="0.30"/><circle cx="262.1" cy="34.0" r="0.37"/><circle cx="262.4" cy="37.4" r="0.34"/><circle cx="263.1" cy="35.4" r="0.52"/><circle cx="261.8" cy="32.5" r="0.67"/><circle cx="267.3" cy="35.8" r="0.57"/><circle cx="264.9" cy="31.8" r="0.35"/><circle cx="262.1" cy="32.6" r="0.32"/><circle cx="262.9" cy="34.3" r="0.55"/><circle cx="267.5" cy="39.8" r="0.59"/><circle cx="262.5" cy="31.5" r="0.63"/><circle cx="265.9" cy="32.6" r="0.45"/><circle cx="263.5" cy="34.9" r="0.47"/><circle cx="264.2" cy="38.7" r="0.62"/><circle cx="265.4" cy="35.3" r="0.41"/><circle cx="266.9" cy="40.6" r="0.39"/><circle cx="266.4" cy="37.7" r="0.56"/><circle cx="262.8" cy="32.4" r="0.53"/><circle cx="266.0" cy="36.9" r="0.60"/><circle cx="266.4" cy="35.3" r="0.32"/><circle cx="266.9" cy="38.9" r="0.63"/><circle cx="265.7" cy="30.8" r="0.38"/><circle cx="265.3" cy="32.3" r="0.68"/><circle cx="268.4" cy="39.7" r="0.49"/><circle cx="263.4" cy="32.6" r="0.63"/><circle cx="266.4" cy="33.3" r="0.66"/><circle cx="265.4" cy="34.7" r="0.47"/><circle cx="266.5" cy="35.1" r="0.56"/><circle cx="262.2" cy="37.7" r="0.41"/><circle cx="263.7" cy="36.0" r="0.46"/><circle cx="262.8" cy="38.4" r="0.58"/><circle cx="267.0" cy="35.0" r="0.48"/><circle cx="263.8" cy="35.3" r="0.40"/><circle cx="262.7" cy="35.3" r="0.38"/><circle cx="264.7" cy="36.4" r="0.42"/><circle cx="262.6" cy="36.7" r="0.64"/><circle cx="262.9" cy="36.8" r="0.56"/><circle cx="267.7" cy="37.5" r="0.42"/><circle cx="263.5" cy="30.5" r="0.65"/><circle cx="262.8" cy="33.6" r="0.43"/><circle cx="263.2" cy="37.9" r="0.44"/><circle cx="264.5" cy="34.8" r="0.63"/><circle cx="262.3" cy="32.0" r="0.54"/><circle cx="264.0" cy="31.1" r="0.54"/><circle cx="264.9" cy="38.7" r="0.67"/><circle cx="262.4" cy="33.5" r="0.69"/><circle cx="266.4" cy="39.5" r="0.54"/><circle cx="266.4" cy="35.8" r="0.39"/><circle cx="262.9" cy="31.0" r="0.57"/><circle cx="262.3" cy="36.9" r="0.46"/><circle cx="264.2" cy="35.3" r="0.45"/><circle cx="262.9" cy="32.7" r="0.51"/><circle cx="264.2" cy="35.7" r="0.34"/><circle cx="265.0" cy="35.8" r="0.61"/><circle cx="265.5" cy="37.7" r="0.59"/><circle cx="264.8" cy="31.7" r="0.36"/><circle cx="263.7" cy="36.0" r="0.55"/><circle cx="264.5" cy="31.9" r="0.42"/><circle cx="266.1" cy="35.3" r="0.68"/><circle cx="263.9" cy="33.9" r="0.67"/><circle cx="265.7" cy="31.5" r="0.61"/><circle cx="265.9" cy="38.8" r="0.66"/><circle cx="266.5" cy="39.4" r="0.33"/><circle cx="265.2" cy="36.7" r="0.47"/><circle cx="264.4" cy="38.6" r="0.37"/><circle cx="266.2" cy="33.5" r="0.66"/><circle cx="261.6" cy="33.0" r="0.62"/><circle cx="267.8" cy="34.6" r="0.66"/><circle cx="261.8" cy="32.8" r="0.38"/><circle cx="264.9" cy="33.3" r="0.56"/><circle cx="265.1" cy="34.6" r="0.67"/><circle cx="264.7" cy="34.3" r="0.69"/><circle cx="265.5" cy="35.8" r="0.48"/><circle cx="267.1" cy="37.1" r="0.36"/><circle cx="265.6" cy="31.7" r="0.44"/><circle cx="265.5" cy="33.0" r="0.48"/><circle cx="264.7" cy="34.8" r="0.41"/><circle cx="262.9" cy="38.2" r="0.68"/><circle cx="267.3" cy="36.9" r="0.31"/><circle cx="263.5" cy="39.1" r="0.69"/><circle cx="265.3" cy="36.3" r="0.57"/><circle cx="263.1" cy="37.8" r="0.45"/><circle cx="267.5" cy="35.2" r="0.57"/><circle cx="265.4" cy="36.0" r="0.48"/><circle cx="264.4" cy="35.6" r="0.66"/><circle cx="266.7" cy="37.2" r="0.68"/><circle cx="265.8" cy="35.1" r="0.69"/><circle cx="265.8" cy="38.4" r="0.58"/><circle cx="264.0" cy="38.7" r="0.44"/><circle cx="262.4" cy="37.3" r="0.56"/><circle cx="264.3" cy="35.6" r="0.70"/><circle cx="267.2" cy="34.6" r="0.66"/><circle cx="265.5" cy="34.6" r="0.56"/><circle cx="267.0" cy="39.7" r="0.57"/><circle cx="266.2" cy="34.6" r="0.32"/><circle cx="264.6" cy="31.6" r="0.68"/><circle cx="263.9" cy="36.7" r="0.59"/><circle cx="263.7" cy="31.2" r="0.54"/><circle cx="264.5" cy="31.4" r="0.31"/><circle cx="263.7" cy="35.4" r="0.66"/><circle cx="268.4" cy="39.5" r="0.56"/><circle cx="265.5" cy="32.7" r="0.54"/><circle cx="262.5" cy="33.5" r="0.63"/><circle cx="265.4" cy="37.9" r="0.49"/><circle cx="263.3" cy="35.6" r="0.53"/><circle cx="263.1" cy="39.2" r="0.69"/><circle cx="262.6" cy="32.9" r="0.62"/><circle cx="266.6" cy="32.7" r="0.53"/><circle cx="263.0" cy="39.4" r="0.53"/><circle cx="265.0" cy="32.1" r="0.46"/><circle cx="264.7" cy="34.2" r="0.37"/><circle cx="262.8" cy="37.7" r="0.67"/><circle cx="267.4" cy="36.8" r="0.62"/><circle cx="262.3" cy="32.6" r="0.58"/><circle cx="267.0" cy="32.4" r="0.37"/><circle cx="264.2" cy="39.1" r="0.30"/><circle cx="267.7" cy="33.6" r="0.53"/><circle cx="264.7" cy="31.7" r="0.68"/><circle cx="267.7" cy="35.1" r="0.68"/><circle cx="264.8" cy="31.2" r="0.62"/><circle cx="271.8" cy="43.2" r="0.41"/><circle cx="270.8" cy="41.2" r="0.35"/><circle cx="272.0" cy="41.4" r="0.38"/><circle cx="270.3" cy="40.7" r="0.61"/><circle cx="270.6" cy="40.2" r="0.55"/><circle cx="272.2" cy="43.2" r="0.56"/><circle cx="270.5" cy="39.5" r="0.61"/><circle cx="271.7" cy="43.8" r="0.69"/><circle cx="271.3" cy="44.0" r="0.59"/><circle cx="270.8" cy="41.9" r="0.31"/><circle cx="272.4" cy="43.5" r="0.60"/><circle cx="270.6" cy="42.8" r="0.69"/><circle cx="272.3" cy="41.5" r="0.42"/><circle cx="270.3" cy="42.2" r="0.68"/><circle cx="273.0" cy="40.8" r="0.64"/><circle cx="270.6" cy="40.5" r="0.53"/><circle cx="272.9" cy="41.8" r="0.34"/><circle cx="273.1" cy="42.0" r="0.61"/><circle cx="270.9" cy="40.7" r="0.34"/><circle cx="270.7" cy="41.3" r="0.46"/><circle cx="272.2" cy="43.3" r="0.43"/><circle cx="273.1" cy="42.4" r="0.44"/><circle cx="272.3" cy="41.0" r="0.47"/><circle cx="274.1" cy="19.6" r="0.41"/><circle cx="273.5" cy="22.8" r="0.33"/><circle cx="274.3" cy="21.9" r="0.37"/><circle cx="273.8" cy="21.5" r="0.58"/><circle cx="273.5" cy="20.0" r="0.50"/><circle cx="272.6" cy="20.7" r="0.46"/><circle cx="272.3" cy="19.7" r="0.44"/><circle cx="273.1" cy="21.2" r="0.60"/><circle cx="272.7" cy="21.2" r="0.44"/><circle cx="272.6" cy="19.2" r="0.68"/><circle cx="272.4" cy="19.3" r="0.34"/><circle cx="272.8" cy="20.6" r="0.30"/><circle cx="273.2" cy="21.8" r="0.63"/><circle cx="274.2" cy="20.4" r="0.43"/><circle cx="272.4" cy="19.8" r="0.41"/><circle cx="272.7" cy="19.7" r="0.51"/><circle cx="274.3" cy="20.0" r="0.47"/><circle cx="273.3" cy="22.5" r="0.61"/><circle cx="270.6" cy="26.4" r="0.53"/><circle cx="270.0" cy="27.5" r="0.43"/><circle cx="269.9" cy="25.6" r="0.64"/><circle cx="270.0" cy="27.1" r="0.56"/><circle cx="269.3" cy="26.1" r="0.63"/><circle cx="270.8" cy="27.2" r="0.66"/><circle cx="270.0" cy="28.1" r="0.57"/><circle cx="269.4" cy="28.3" r="0.32"/><circle cx="270.1" cy="28.7" r="0.52"/><circle cx="270.5" cy="28.3" r="0.66"/><circle cx="270.7" cy="27.2" r="0.40"/><circle cx="269.5" cy="26.3" r="0.31"/><circle cx="277.1" cy="46.7" r="0.66"/><circle cx="276.1" cy="46.4" r="0.42"/><circle cx="276.7" cy="45.9" r="0.32"/><circle cx="276.7" cy="47.7" r="0.65"/><circle cx="275.8" cy="46.4" r="0.47"/><circle cx="276.2" cy="46.6" r="0.57"/><circle cx="276.0" cy="47.7" r="0.42"/><circle cx="277.2" cy="45.9" r="0.62"/><circle cx="276.6" cy="48.2" r="0.69"/><circle cx="277.0" cy="45.3" r="0.45"/><circle cx="277.4" cy="47.0" r="0.68"/><circle cx="277.0" cy="45.6" r="0.30"/><circle cx="274.0" cy="54.0" r="0.64"/><circle cx="274.8" cy="54.7" r="0.66"/><circle cx="273.8" cy="53.8" r="0.57"/><circle cx="274.9" cy="52.9" r="0.39"/><circle cx="275.1" cy="53.3" r="0.31"/><circle cx="274.2" cy="52.3" r="0.40"/><circle cx="274.0" cy="53.8" r="0.57"/><circle cx="274.8" cy="53.7" r="0.41"/><circle cx="275.0" cy="54.5" r="0.38"/><circle cx="274.1" cy="51.8" r="0.50"/><circle cx="274.0" cy="52.2" r="0.41"/><circle cx="278.2" cy="32.9" r="0.42"/><circle cx="278.0" cy="33.0" r="0.54"/><circle cx="277.9" cy="32.9" r="0.34"/><circle cx="278.2" cy="32.9" r="0.39"/><circle cx="278.4" cy="31.2" r="0.48"/><circle cx="278.3" cy="32.3" r="0.36"/><circle cx="277.4" cy="32.0" r="0.56"/><circle cx="278.0" cy="31.4" r="0.44"/><circle cx="277.7" cy="31.2" r="0.54"/><circle cx="278.0" cy="31.8" r="0.30"/><circle cx="277.3" cy="31.7" r="0.62"/><circle cx="279.4" cy="58.0" r="0.54"/><circle cx="280.6" cy="58.6" r="0.37"/><circle cx="280.5" cy="57.9" r="0.51"/><circle cx="279.7" cy="58.7" r="0.62"/><circle cx="280.6" cy="57.2" r="0.59"/><circle cx="279.4" cy="58.4" r="0.31"/><circle cx="280.1" cy="58.3" r="0.53"/><circle cx="280.7" cy="57.3" r="0.33"/><circle cx="279.5" cy="56.9" r="0.47"/><circle cx="276.9" cy="15.3" r="0.45"/><circle cx="276.8" cy="13.7" r="0.64"/><circle cx="276.5" cy="14.3" r="0.56"/><circle cx="276.3" cy="15.1" r="0.48"/><circle cx="276.5" cy="14.9" r="0.57"/><circle cx="277.2" cy="14.1" r="0.56"/><circle cx="276.9" cy="14.4" r="0.46"/><circle cx="275.9" cy="13.8" r="0.60"/></g>
<g fill="#fff" opacity="0.8"><circle cx="282.9" cy="62.4" r="0.56"/><circle cx="264.0" cy="51.3" r="0.53"/><circle cx="267.5" cy="51.9" r="0.39"/><circle cx="272.5" cy="53.7" r="0.50"/><circle cx="264.5" cy="40.1" r="0.38"/><circle cx="275.5" cy="39.6" r="0.60"/><circle cx="275.6" cy="49.0" r="0.45"/><circle cx="278.4" cy="19.4" r="0.45"/><circle cx="269.4" cy="56.7" r="0.48"/><circle cx="278.2" cy="47.7" r="0.40"/><circle cx="278.8" cy="14.9" r="0.34"/><circle cx="277.5" cy="66.9" r="0.51"/><circle cx="265.5" cy="45.8" r="0.32"/><circle cx="274.3" cy="46.3" r="0.51"/><circle cx="277.7" cy="35.3" r="0.37"/><circle cx="275.7" cy="25.3" r="0.35"/><circle cx="284.7" cy="30.9" r="0.52"/><circle cx="280.5" cy="38.2" r="0.54"/><circle cx="271.8" cy="35.9" r="0.48"/><circle cx="263.9" cy="48.7" r="0.33"/><circle cx="289.1" cy="16.3" r="0.38"/><circle cx="280.3" cy="28.4" r="0.60"/><circle cx="276.3" cy="56.1" r="0.35"/><circle cx="276.8" cy="41.3" r="0.47"/><circle cx="276.5" cy="36.2" r="0.39"/><circle cx="275.4" cy="17.2" r="0.40"/><circle cx="283.2" cy="50.8" r="0.28"/><circle cx="271.9" cy="37.4" r="0.56"/><circle cx="275.8" cy="47.8" r="0.58"/><circle cx="279.8" cy="56.5" r="0.40"/><circle cx="266.6" cy="49.8" r="0.55"/><circle cx="267.3" cy="32.9" r="0.35"/><circle cx="277.0" cy="55.2" r="0.51"/><circle cx="268.6" cy="27.0" r="0.61"/><circle cx="272.2" cy="35.1" r="0.28"/><circle cx="273.2" cy="19.3" r="0.45"/><circle cx="284.9" cy="34.4" r="0.51"/><circle cx="272.4" cy="24.8" r="0.58"/><circle cx="274.7" cy="26.9" r="0.50"/><circle cx="270.7" cy="26.4" r="0.34"/><circle cx="268.2" cy="23.7" r="0.59"/><circle cx="279.0" cy="13.9" r="0.28"/><circle cx="269.6" cy="58.1" r="0.33"/><circle cx="269.5" cy="55.2" r="0.57"/><circle cx="266.0" cy="28.6" r="0.43"/><circle cx="274.1" cy="47.9" r="0.54"/><circle cx="273.3" cy="12.6" r="0.41"/><circle cx="275.7" cy="21.6" r="0.58"/><circle cx="277.8" cy="41.4" r="0.36"/><circle cx="262.9" cy="27.1" r="0.49"/><circle cx="280.6" cy="50.9" r="0.26"/><circle cx="283.6" cy="51.6" r="0.50"/><circle cx="275.4" cy="60.9" r="0.61"/><circle cx="277.4" cy="36.2" r="0.45"/><circle cx="284.4" cy="50.5" r="0.54"/><circle cx="268.6" cy="46.1" r="0.34"/><circle cx="277.2" cy="11.8" r="0.45"/><circle cx="282.0" cy="64.2" r="0.43"/><circle cx="276.4" cy="31.0" r="0.40"/><circle cx="277.9" cy="55.1" r="0.57"/><circle cx="269.1" cy="45.0" r="0.48"/><circle cx="280.7" cy="45.1" r="0.42"/><circle cx="280.2" cy="37.5" r="0.38"/><circle cx="281.0" cy="22.7" r="0.39"/><circle cx="272.2" cy="52.2" r="0.55"/><circle cx="278.9" cy="23.6" r="0.30"/><circle cx="276.6" cy="32.4" r="0.52"/><circle cx="265.6" cy="51.3" r="0.38"/><circle cx="267.7" cy="21.5" r="0.53"/><circle cx="274.8" cy="42.7" r="0.56"/><circle cx="266.5" cy="34.9" r="0.41"/><circle cx="263.1" cy="29.1" r="0.25"/><circle cx="274.7" cy="47.7" r="0.62"/><circle cx="289.4" cy="30.3" r="0.29"/><circle cx="263.4" cy="41.9" r="0.50"/><circle cx="277.7" cy="13.1" r="0.40"/><circle cx="274.5" cy="33.5" r="0.53"/><circle cx="282.5" cy="16.0" r="0.42"/><circle cx="281.0" cy="57.0" r="0.50"/><circle cx="271.3" cy="59.8" r="0.48"/><circle cx="277.8" cy="45.7" r="0.53"/><circle cx="281.4" cy="37.7" r="0.54"/><circle cx="272.2" cy="54.3" r="0.59"/><circle cx="275.7" cy="19.6" r="0.59"/><circle cx="265.5" cy="23.3" r="0.27"/><circle cx="272.1" cy="34.4" r="0.55"/><circle cx="264.2" cy="33.0" r="0.53"/><circle cx="283.4" cy="28.4" r="0.30"/><circle cx="262.3" cy="23.2" r="0.51"/><circle cx="282.1" cy="55.3" r="0.45"/><circle cx="281.6" cy="25.1" r="0.45"/><circle cx="272.7" cy="42.2" r="0.40"/><circle cx="281.2" cy="41.4" r="0.26"/><circle cx="274.0" cy="45.7" r="0.53"/><circle cx="262.5" cy="33.3" r="0.48"/><circle cx="273.8" cy="25.2" r="0.54"/><circle cx="275.8" cy="20.0" r="0.43"/><circle cx="283.8" cy="29.4" r="0.41"/><circle cx="273.0" cy="29.0" r="0.48"/><circle cx="272.2" cy="17.9" r="0.27"/><circle cx="283.7" cy="23.0" r="0.59"/><circle cx="270.1" cy="47.7" r="0.38"/><circle cx="279.7" cy="19.2" r="0.35"/><circle cx="276.7" cy="68.9" r="0.25"/><circle cx="274.6" cy="37.8" r="0.31"/><circle cx="287.0" cy="45.1" r="0.53"/><circle cx="266.4" cy="53.2" r="0.51"/><circle cx="283.5" cy="21.8" r="0.60"/><circle cx="273.3" cy="15.6" r="0.59"/><circle cx="275.1" cy="43.0" r="0.50"/><circle cx="279.2" cy="32.1" r="0.53"/><circle cx="275.2" cy="19.4" r="0.47"/><circle cx="270.0" cy="42.8" r="0.31"/><circle cx="266.8" cy="26.4" r="0.50"/><circle cx="284.7" cy="34.8" r="0.60"/><circle cx="266.8" cy="39.9" r="0.36"/><circle cx="283.6" cy="49.2" r="0.56"/><circle cx="274.0" cy="21.6" r="0.49"/><circle cx="275.4" cy="60.9" r="0.55"/><circle cx="278.8" cy="54.3" r="0.26"/><circle cx="273.1" cy="39.6" r="0.26"/><circle cx="285.0" cy="42.9" r="0.52"/><circle cx="282.6" cy="48.3" r="0.44"/><circle cx="283.3" cy="56.7" r="0.36"/><circle cx="288.2" cy="23.7" r="0.43"/><circle cx="282.1" cy="19.8" r="0.27"/><circle cx="266.7" cy="45.8" r="0.58"/><circle cx="276.8" cy="41.5" r="0.39"/><circle cx="274.7" cy="52.7" r="0.57"/><circle cx="269.8" cy="50.4" r="0.38"/><circle cx="271.6" cy="46.6" r="0.44"/><circle cx="273.0" cy="56.0" r="0.42"/><circle cx="280.8" cy="43.4" r="0.60"/><circle cx="269.3" cy="36.8" r="0.53"/><circle cx="268.2" cy="57.4" r="0.37"/><circle cx="263.6" cy="42.9" r="0.46"/><circle cx="268.5" cy="26.9" r="0.62"/><circle cx="274.8" cy="52.5" r="0.41"/><circle cx="276.3" cy="27.7" r="0.31"/><circle cx="268.4" cy="34.7" r="0.46"/><circle cx="260.8" cy="46.9" r="0.50"/><circle cx="273.6" cy="18.0" r="0.45"/><circle cx="277.3" cy="51.7" r="0.58"/><circle cx="289.8" cy="42.2" r="0.47"/><circle cx="279.0" cy="66.7" r="0.53"/><circle cx="265.3" cy="22.7" r="0.42"/><circle cx="276.5" cy="51.3" r="0.42"/><circle cx="266.4" cy="54.3" r="0.32"/><circle cx="287.7" cy="37.0" r="0.48"/><circle cx="281.9" cy="23.0" r="0.58"/><circle cx="283.3" cy="33.6" r="0.48"/><circle cx="276.5" cy="54.3" r="0.36"/><circle cx="269.3" cy="32.7" r="0.59"/><circle cx="280.8" cy="62.5" r="0.53"/><circle cx="281.1" cy="55.6" r="0.33"/><circle cx="283.0" cy="44.9" r="0.49"/><circle cx="274.6" cy="37.1" r="0.56"/><circle cx="284.3" cy="22.2" r="0.57"/><circle cx="276.0" cy="14.6" r="0.54"/><circle cx="267.3" cy="22.3" r="0.45"/><circle cx="272.7" cy="49.2" r="0.49"/><circle cx="273.1" cy="34.8" r="0.32"/><circle cx="278.3" cy="50.7" r="0.54"/><circle cx="285.0" cy="31.4" r="0.45"/><circle cx="278.4" cy="33.7" r="0.25"/><circle cx="282.1" cy="63.5" r="0.43"/><circle cx="271.4" cy="48.3" r="0.38"/><circle cx="281.7" cy="22.8" r="0.36"/><circle cx="271.9" cy="35.4" r="0.40"/><circle cx="277.8" cy="32.7" r="0.57"/><circle cx="267.2" cy="56.4" r="0.57"/><circle cx="277.7" cy="29.7" r="0.43"/><circle cx="268.6" cy="26.4" r="0.33"/><circle cx="282.7" cy="53.3" r="0.34"/><circle cx="275.7" cy="58.6" r="0.51"/><circle cx="270.6" cy="35.2" r="0.61"/><circle cx="279.7" cy="56.2" r="0.56"/><circle cx="265.5" cy="47.6" r="0.61"/><circle cx="264.0" cy="37.0" r="0.39"/><circle cx="286.1" cy="38.0" r="0.30"/><circle cx="270.7" cy="48.7" r="0.45"/><circle cx="278.7" cy="50.2" r="0.47"/><circle cx="281.9" cy="40.7" r="0.25"/><circle cx="276.6" cy="15.8" r="0.43"/><circle cx="281.4" cy="24.1" r="0.40"/><circle cx="281.8" cy="27.1" r="0.48"/><circle cx="266.2" cy="36.2" r="0.62"/><circle cx="283.6" cy="21.7" r="0.55"/><circle cx="271.4" cy="39.9" r="0.35"/><circle cx="271.2" cy="23.0" r="0.55"/><circle cx="274.3" cy="49.1" r="0.30"/><circle cx="270.4" cy="14.4" r="0.56"/><circle cx="273.9" cy="41.7" r="0.58"/><circle cx="274.1" cy="21.1" r="0.41"/><circle cx="271.1" cy="59.6" r="0.28"/><circle cx="268.6" cy="56.0" r="0.30"/><circle cx="275.4" cy="59.6" r="0.45"/><circle cx="283.2" cy="21.4" r="0.57"/><circle cx="263.5" cy="30.4" r="0.47"/><circle cx="283.4" cy="25.4" r="0.40"/><circle cx="283.9" cy="33.1" r="0.62"/><circle cx="281.7" cy="48.2" r="0.35"/><circle cx="258.9" cy="27.7" r="0.50"/><circle cx="280.1" cy="51.7" r="0.35"/><circle cx="286.9" cy="38.6" r="0.48"/><circle cx="280.5" cy="61.9" r="0.61"/><circle cx="271.9" cy="29.4" r="0.35"/><circle cx="269.2" cy="25.3" r="0.28"/><circle cx="281.8" cy="65.5" r="0.41"/><circle cx="285.9" cy="34.7" r="0.43"/><circle cx="270.7" cy="42.3" r="0.49"/><circle cx="288.3" cy="30.4" r="0.48"/><circle cx="273.4" cy="60.3" r="0.34"/><circle cx="276.2" cy="64.3" r="0.56"/><circle cx="286.3" cy="41.9" r="0.49"/><circle cx="283.7" cy="25.3" r="0.61"/><circle cx="284.3" cy="39.5" r="0.47"/><circle cx="268.2" cy="25.2" r="0.27"/><circle cx="267.8" cy="32.4" r="0.49"/><circle cx="284.7" cy="46.0" r="0.31"/><circle cx="275.5" cy="65.2" r="0.34"/><circle cx="281.1" cy="23.8" r="0.36"/><circle cx="276.1" cy="59.7" r="0.45"/><circle cx="264.8" cy="44.5" r="0.27"/><circle cx="282.2" cy="43.6" r="0.37"/><circle cx="278.8" cy="31.8" r="0.43"/><circle cx="277.5" cy="57.7" r="0.32"/><circle cx="286.4" cy="43.6" r="0.50"/><circle cx="282.9" cy="48.1" r="0.37"/><circle cx="275.9" cy="61.2" r="0.38"/><circle cx="273.0" cy="50.7" r="0.37"/><circle cx="284.0" cy="57.5" r="0.33"/><circle cx="271.5" cy="62.5" r="0.44"/><circle cx="264.5" cy="38.3" r="0.58"/><circle cx="283.2" cy="54.5" r="0.26"/><circle cx="281.5" cy="56.6" r="0.52"/><circle cx="275.7" cy="63.0" r="0.47"/><circle cx="277.3" cy="47.6" r="0.34"/><circle cx="285.7" cy="46.9" r="0.55"/><circle cx="276.9" cy="43.4" r="0.56"/><circle cx="264.6" cy="33.9" r="0.55"/><circle cx="282.1" cy="50.2" r="0.49"/><circle cx="272.5" cy="53.9" r="0.28"/><circle cx="283.3" cy="34.8" r="0.31"/><circle cx="287.2" cy="15.8" r="0.32"/><circle cx="284.4" cy="24.2" r="0.51"/><circle cx="283.4" cy="41.3" r="0.34"/><circle cx="274.6" cy="25.2" r="0.61"/><circle cx="273.4" cy="44.4" r="0.37"/><circle cx="272.6" cy="63.6" r="0.58"/><circle cx="264.9" cy="22.7" r="0.37"/><circle cx="283.8" cy="26.1" r="0.46"/><circle cx="274.0" cy="52.3" r="0.43"/><circle cx="277.2" cy="66.4" r="0.38"/><circle cx="269.0" cy="31.0" r="0.42"/><circle cx="268.8" cy="30.8" r="0.42"/><circle cx="284.8" cy="23.6" r="0.36"/><circle cx="269.1" cy="38.6" r="0.29"/><circle cx="275.2" cy="66.3" r="0.29"/><circle cx="266.7" cy="42.6" r="0.29"/><circle cx="269.4" cy="55.5" r="0.36"/><circle cx="282.4" cy="27.5" r="0.53"/><circle cx="281.7" cy="44.7" r="0.42"/><circle cx="275.1" cy="31.1" r="0.56"/><circle cx="269.4" cy="43.0" r="0.52"/><circle cx="278.9" cy="25.9" r="0.28"/><circle cx="280.0" cy="17.7" r="0.54"/><circle cx="278.7" cy="63.7" r="0.41"/><circle cx="273.4" cy="48.3" r="0.29"/><circle cx="286.0" cy="45.7" r="0.51"/><circle cx="269.1" cy="33.3" r="0.59"/><circle cx="273.7" cy="43.9" r="0.41"/><circle cx="271.9" cy="15.0" r="0.50"/><circle cx="274.3" cy="22.9" r="0.53"/><circle cx="276.0" cy="59.8" r="0.44"/><circle cx="262.9" cy="39.1" r="0.33"/><circle cx="276.3" cy="11.5" r="0.50"/><circle cx="284.2" cy="43.7" r="0.38"/><circle cx="280.3" cy="33.9" r="0.61"/><circle cx="287.7" cy="36.3" r="0.34"/><circle cx="279.4" cy="17.7" r="0.38"/><circle cx="280.3" cy="17.7" r="0.30"/><circle cx="271.6" cy="31.7" r="0.42"/><circle cx="276.3" cy="15.7" r="0.36"/><circle cx="284.8" cy="54.7" r="0.48"/><circle cx="269.9" cy="29.2" r="0.29"/><circle cx="272.1" cy="57.1" r="0.38"/><circle cx="272.2" cy="17.7" r="0.31"/><circle cx="285.9" cy="38.4" r="0.46"/><circle cx="271.2" cy="51.2" r="0.33"/><circle cx="269.9" cy="53.3" r="0.38"/><circle cx="274.2" cy="61.7" r="0.32"/><circle cx="272.8" cy="43.5" r="0.58"/><circle cx="282.6" cy="53.9" r="0.61"/><circle cx="278.5" cy="55.9" r="0.58"/><circle cx="285.0" cy="47.4" r="0.57"/><circle cx="285.9" cy="43.4" r="0.54"/><circle cx="280.4" cy="35.1" r="0.28"/><circle cx="277.8" cy="40.1" r="0.47"/><circle cx="281.8" cy="22.1" r="0.47"/><circle cx="277.5" cy="68.1" r="0.40"/><circle cx="265.7" cy="24.1" r="0.51"/><circle cx="284.5" cy="28.3" r="0.56"/><circle cx="271.4" cy="40.2" r="0.42"/><circle cx="274.3" cy="17.6" r="0.48"/><circle cx="275.9" cy="64.8" r="0.55"/><circle cx="278.4" cy="57.4" r="0.40"/><circle cx="284.7" cy="47.2" r="0.56"/><circle cx="287.6" cy="11.7" r="0.43"/><circle cx="274.8" cy="24.6" r="0.37"/><circle cx="276.5" cy="32.0" r="0.25"/><circle cx="269.6" cy="20.3" r="0.62"/><circle cx="282.2" cy="53.5" r="0.48"/><circle cx="274.9" cy="67.4" r="0.46"/><circle cx="271.8" cy="28.0" r="0.48"/><circle cx="276.4" cy="29.1" r="0.42"/><circle cx="272.1" cy="61.9" r="0.30"/><circle cx="274.3" cy="59.0" r="0.54"/><circle cx="275.2" cy="40.8" r="0.55"/><circle cx="276.0" cy="56.8" r="0.41"/><circle cx="265.5" cy="44.3" r="0.50"/><circle cx="274.5" cy="32.2" r="0.27"/><circle cx="272.8" cy="15.5" r="0.45"/><circle cx="272.9" cy="15.1" r="0.38"/><circle cx="273.0" cy="26.9" r="0.60"/><circle cx="272.5" cy="12.6" r="0.42"/><circle cx="275.9" cy="21.1" r="0.41"/><circle cx="274.2" cy="62.8" r="0.34"/><circle cx="267.8" cy="42.1" r="0.36"/><circle cx="271.0" cy="53.2" r="0.43"/><circle cx="275.4" cy="54.7" r="0.48"/><circle cx="284.3" cy="38.6" r="0.33"/><circle cx="276.0" cy="47.5" r="0.31"/><circle cx="277.6" cy="37.7" r="0.39"/><circle cx="274.3" cy="32.4" r="0.39"/><circle cx="258.8" cy="28.0" r="0.44"/><circle cx="280.6" cy="64.4" r="0.51"/><circle cx="265.3" cy="47.6" r="0.26"/><circle cx="279.1" cy="63.7" r="0.52"/><circle cx="266.2" cy="27.4" r="0.28"/><circle cx="277.2" cy="49.8" r="0.42"/><circle cx="275.4" cy="20.2" r="0.45"/><circle cx="269.4" cy="39.1" r="0.39"/><circle cx="282.6" cy="29.6" r="0.57"/><circle cx="285.8" cy="40.4" r="0.48"/><circle cx="270.9" cy="54.7" r="0.61"/><circle cx="278.7" cy="32.5" r="0.59"/><circle cx="262.1" cy="34.1" r="0.60"/><circle cx="278.2" cy="40.9" r="0.55"/><circle cx="279.8" cy="68.0" r="0.38"/><circle cx="275.7" cy="63.9" r="0.36"/><circle cx="271.5" cy="17.9" r="0.38"/><circle cx="281.3" cy="60.6" r="0.46"/><circle cx="278.6" cy="26.1" r="0.27"/><circle cx="275.6" cy="25.8" r="0.56"/><circle cx="273.1" cy="36.1" r="0.42"/><circle cx="286.4" cy="16.4" r="0.59"/><circle cx="284.4" cy="50.9" r="0.45"/><circle cx="281.6" cy="44.6" r="0.54"/><circle cx="266.3" cy="35.7" r="0.35"/><circle cx="278.1" cy="24.9" r="0.55"/><circle cx="282.0" cy="55.7" r="0.47"/><circle cx="268.4" cy="49.4" r="0.34"/><circle cx="275.8" cy="58.5" r="0.44"/><circle cx="273.5" cy="33.8" r="0.35"/><circle cx="273.6" cy="15.9" r="0.56"/><circle cx="263.1" cy="31.3" r="0.37"/><circle cx="278.5" cy="30.7" r="0.33"/><circle cx="273.9" cy="40.6" r="0.44"/><circle cx="270.9" cy="42.9" r="0.61"/><circle cx="270.2" cy="52.1" r="0.41"/><circle cx="281.5" cy="34.1" r="0.55"/><circle cx="282.6" cy="13.9" r="0.50"/><circle cx="280.9" cy="20.2" r="0.54"/><circle cx="271.9" cy="21.5" r="0.32"/><circle cx="259.1" cy="40.3" r="0.39"/><circle cx="275.5" cy="18.6" r="0.53"/><circle cx="270.1" cy="27.6" r="0.55"/><circle cx="281.0" cy="44.5" r="0.51"/><circle cx="277.1" cy="47.4" r="0.37"/><circle cx="273.1" cy="16.4" r="0.42"/><circle cx="273.9" cy="43.9" r="0.43"/><circle cx="278.3" cy="43.0" r="0.62"/><circle cx="263.8" cy="48.8" r="0.53"/><circle cx="283.8" cy="21.0" r="0.35"/><circle cx="281.3" cy="47.6" r="0.37"/><circle cx="284.9" cy="36.9" r="0.35"/><circle cx="273.7" cy="23.4" r="0.53"/><circle cx="277.2" cy="16.6" r="0.60"/><circle cx="282.0" cy="15.5" r="0.37"/><circle cx="274.3" cy="46.1" r="0.33"/><circle cx="277.3" cy="18.0" r="0.26"/><circle cx="285.7" cy="33.4" r="0.42"/><circle cx="277.0" cy="29.0" r="0.37"/><circle cx="271.1" cy="26.2" r="0.51"/><circle cx="276.5" cy="17.5" r="0.29"/><circle cx="282.6" cy="39.2" r="0.57"/><circle cx="281.7" cy="45.2" r="0.34"/><circle cx="278.3" cy="38.3" r="0.53"/><circle cx="271.0" cy="22.3" r="0.42"/><circle cx="283.2" cy="49.1" r="0.25"/><circle cx="275.8" cy="15.0" r="0.46"/><circle cx="272.1" cy="52.3" r="0.62"/><circle cx="267.6" cy="27.1" r="0.50"/><circle cx="273.3" cy="45.8" r="0.56"/><circle cx="282.8" cy="36.1" r="0.38"/><circle cx="280.8" cy="46.1" r="0.50"/><circle cx="274.3" cy="53.7" r="0.34"/><circle cx="284.7" cy="34.5" r="0.41"/><circle cx="276.8" cy="48.1" r="0.37"/><circle cx="288.0" cy="16.9" r="0.60"/><circle cx="270.0" cy="36.3" r="0.55"/><circle cx="273.2" cy="52.4" r="0.45"/><circle cx="270.3" cy="26.4" r="0.28"/><circle cx="267.8" cy="23.4" r="0.34"/><circle cx="271.7" cy="16.8" r="0.52"/><circle cx="268.1" cy="56.4" r="0.46"/><circle cx="281.7" cy="53.9" r="0.38"/><circle cx="280.5" cy="13.2" r="0.56"/><circle cx="281.8" cy="65.0" r="0.38"/><circle cx="261.1" cy="27.8" r="0.28"/><circle cx="282.0" cy="33.9" r="0.46"/><circle cx="264.4" cy="25.1" r="0.57"/><circle cx="281.9" cy="17.6" r="0.28"/><circle cx="267.7" cy="41.7" r="0.37"/><circle cx="278.8" cy="57.2" r="0.43"/><circle cx="278.9" cy="19.8" r="0.36"/><circle cx="273.7" cy="18.5" r="0.55"/><circle cx="275.8" cy="68.5" r="0.30"/><circle cx="279.8" cy="35.9" r="0.36"/><circle cx="270.8" cy="15.2" r="0.30"/><circle cx="287.9" cy="27.3" r="0.30"/><circle cx="279.8" cy="17.5" r="0.46"/><circle cx="280.6" cy="49.6" r="0.56"/><circle cx="274.5" cy="63.1" r="0.52"/><circle cx="281.6" cy="24.8" r="0.54"/><circle cx="280.9" cy="58.2" r="0.55"/><circle cx="268.8" cy="38.4" r="0.53"/><circle cx="274.7" cy="33.9" r="0.53"/><circle cx="286.4" cy="12.1" r="0.28"/><circle cx="270.5" cy="25.2" r="0.31"/><circle cx="269.1" cy="31.0" r="0.58"/><circle cx="271.2" cy="19.7" r="0.30"/><circle cx="270.2" cy="14.5" r="0.50"/><circle cx="270.5" cy="50.7" r="0.41"/><circle cx="282.7" cy="45.1" r="0.30"/><circle cx="279.4" cy="42.1" r="0.51"/><circle cx="279.9" cy="22.3" r="0.48"/><circle cx="280.6" cy="25.3" r="0.58"/><circle cx="273.8" cy="64.0" r="0.51"/><circle cx="267.0" cy="34.3" r="0.58"/><circle cx="267.5" cy="50.4" r="0.58"/><circle cx="269.5" cy="59.1" r="0.43"/><circle cx="280.9" cy="53.6" r="0.48"/><circle cx="259.0" cy="28.9" r="0.38"/><circle cx="275.3" cy="28.1" r="0.35"/><circle cx="282.1" cy="11.0" r="0.46"/><circle cx="279.3" cy="27.9" r="0.32"/><circle cx="274.0" cy="14.7" r="0.27"/><circle cx="275.6" cy="66.8" r="0.55"/><circle cx="282.3" cy="32.4" r="0.52"/><circle cx="269.7" cy="31.3" r="0.32"/><circle cx="283.6" cy="60.2" r="0.40"/><circle cx="281.2" cy="46.0" r="0.35"/><circle cx="273.1" cy="17.4" r="0.55"/><circle cx="281.4" cy="13.4" r="0.51"/><circle cx="281.4" cy="14.3" r="0.61"/><circle cx="282.0" cy="23.4" r="0.28"/><circle cx="271.6" cy="57.5" r="0.37"/><circle cx="277.7" cy="51.1" r="0.32"/><circle cx="277.3" cy="19.5" r="0.55"/><circle cx="274.0" cy="63.5" r="0.41"/><circle cx="271.5" cy="36.7" r="0.41"/><circle cx="283.8" cy="28.5" r="0.26"/><circle cx="279.5" cy="19.8" r="0.31"/><circle cx="269.6" cy="38.6" r="0.34"/><circle cx="287.9" cy="28.9" r="0.35"/><circle cx="271.5" cy="12.9" r="0.48"/><circle cx="283.8" cy="34.4" r="0.50"/><circle cx="290.4" cy="28.0" r="0.28"/><circle cx="280.3" cy="42.1" r="0.53"/><circle cx="275.4" cy="52.4" r="0.29"/><circle cx="286.4" cy="41.9" r="0.50"/><circle cx="283.1" cy="40.4" r="0.57"/><circle cx="281.8" cy="25.8" r="0.28"/><circle cx="281.9" cy="63.6" r="0.37"/><circle cx="269.0" cy="50.5" r="0.60"/><circle cx="278.4" cy="15.5" r="0.43"/><circle cx="274.2" cy="22.7" r="0.49"/><circle cx="276.8" cy="35.5" r="0.48"/><circle cx="269.9" cy="30.6" r="0.58"/><circle cx="277.3" cy="68.8" r="0.54"/><circle cx="281.0" cy="14.6" r="0.46"/><circle cx="274.1" cy="42.1" r="0.61"/><circle cx="273.6" cy="24.8" r="0.59"/><circle cx="272.6" cy="16.9" r="0.60"/><circle cx="275.4" cy="22.0" r="0.51"/><circle cx="275.2" cy="43.3" r="0.33"/><circle cx="271.5" cy="22.9" r="0.51"/><circle cx="275.0" cy="25.6" r="0.44"/><circle cx="271.6" cy="44.9" r="0.53"/><circle cx="283.2" cy="27.4" r="0.38"/><circle cx="275.3" cy="17.5" r="0.49"/><circle cx="279.6" cy="23.3" r="0.36"/><circle cx="280.3" cy="66.1" r="0.30"/><circle cx="281.8" cy="61.7" r="0.52"/><circle cx="275.7" cy="44.8" r="0.26"/><circle cx="284.4" cy="54.3" r="0.53"/><circle cx="264.8" cy="37.1" r="0.61"/><circle cx="272.6" cy="59.2" r="0.45"/><circle cx="268.7" cy="49.7" r="0.27"/><circle cx="273.7" cy="39.6" r="0.35"/><circle cx="267.7" cy="54.0" r="0.46"/><circle cx="271.1" cy="37.5" r="0.48"/><circle cx="277.9" cy="50.7" r="0.60"/><circle cx="277.0" cy="18.3" r="0.35"/><circle cx="264.4" cy="34.2" r="0.37"/><circle cx="282.8" cy="24.2" r="0.31"/><circle cx="269.0" cy="53.6" r="0.29"/><circle cx="267.0" cy="24.3" r="0.47"/><circle cx="272.3" cy="34.4" r="0.30"/><circle cx="270.9" cy="34.1" r="0.38"/><circle cx="279.0" cy="38.3" r="0.37"/><circle cx="265.0" cy="45.9" r="0.56"/><circle cx="269.8" cy="48.5" r="0.27"/><circle cx="283.2" cy="35.5" r="0.53"/><circle cx="287.0" cy="18.5" r="0.60"/><circle cx="266.0" cy="49.3" r="0.57"/><circle cx="268.6" cy="39.0" r="0.31"/><circle cx="271.5" cy="63.2" r="0.35"/><circle cx="271.8" cy="18.8" r="0.39"/><circle cx="265.2" cy="31.8" r="0.40"/><circle cx="275.6" cy="47.3" r="0.48"/><circle cx="259.2" cy="39.5" r="0.57"/><circle cx="279.4" cy="51.2" r="0.37"/><circle cx="274.1" cy="28.4" r="0.26"/><circle cx="276.3" cy="15.6" r="0.55"/><circle cx="277.1" cy="17.7" r="0.33"/><circle cx="268.0" cy="33.4" r="0.40"/><circle cx="264.6" cy="50.3" r="0.57"/><circle cx="271.4" cy="54.6" r="0.35"/><circle cx="281.3" cy="21.0" r="0.56"/><circle cx="281.5" cy="30.1" r="0.47"/><circle cx="278.6" cy="61.9" r="0.44"/><circle cx="277.1" cy="58.0" r="0.57"/><circle cx="282.7" cy="36.4" r="0.48"/><circle cx="282.2" cy="22.8" r="0.29"/><circle cx="278.4" cy="26.0" r="0.52"/><circle cx="264.1" cy="31.2" r="0.30"/><circle cx="277.9" cy="61.5" r="0.48"/><circle cx="279.3" cy="25.2" r="0.54"/><circle cx="283.7" cy="35.5" r="0.30"/><circle cx="271.4" cy="41.7" r="0.25"/><circle cx="267.1" cy="46.6" r="0.62"/><circle cx="266.9" cy="44.8" r="0.59"/><circle cx="276.0" cy="17.1" r="0.51"/><circle cx="265.0" cy="45.2" r="0.48"/><circle cx="279.4" cy="29.6" r="0.45"/><circle cx="272.6" cy="54.1" r="0.30"/><circle cx="281.5" cy="65.2" r="0.41"/></g>
<g fill="#fff" opacity="0.7"><circle cx="260.3" cy="48.3" r="0.33"/><circle cx="252.9" cy="38.3" r="0.26"/><circle cx="255.1" cy="32.0" r="0.37"/><circle cx="266.4" cy="24.0" r="0.21"/><circle cx="253.8" cy="47.0" r="0.36"/><circle cx="277.9" cy="15.3" r="0.35"/><circle cx="270.1" cy="27.0" r="0.34"/><circle cx="250.7" cy="39.0" r="0.29"/><circle cx="253.2" cy="35.5" r="0.43"/><circle cx="286.3" cy="41.5" r="0.40"/><circle cx="280.0" cy="39.7" r="0.26"/><circle cx="258.6" cy="34.5" r="0.23"/><circle cx="273.5" cy="40.5" r="0.37"/><circle cx="277.2" cy="44.0" r="0.28"/><circle cx="280.1" cy="22.1" r="0.43"/><circle cx="253.5" cy="40.3" r="0.27"/><circle cx="293.0" cy="23.9" r="0.35"/><circle cx="250.8" cy="35.0" r="0.42"/><circle cx="262.7" cy="40.5" r="0.25"/><circle cx="267.5" cy="34.2" r="0.38"/><circle cx="279.0" cy="37.2" r="0.41"/><circle cx="282.0" cy="55.0" r="0.34"/><circle cx="281.7" cy="47.9" r="0.35"/><circle cx="271.5" cy="53.2" r="0.26"/><circle cx="276.9" cy="56.2" r="0.35"/><circle cx="250.3" cy="42.8" r="0.40"/><circle cx="262.7" cy="41.9" r="0.33"/><circle cx="272.7" cy="60.0" r="0.22"/><circle cx="264.8" cy="30.8" r="0.33"/><circle cx="289.1" cy="13.1" r="0.27"/><circle cx="269.2" cy="42.0" r="0.34"/><circle cx="253.9" cy="45.4" r="0.35"/><circle cx="285.4" cy="23.0" r="0.32"/><circle cx="283.8" cy="21.8" r="0.38"/><circle cx="253.2" cy="39.3" r="0.21"/><circle cx="276.8" cy="55.7" r="0.25"/><circle cx="281.7" cy="21.8" r="0.21"/><circle cx="286.6" cy="11.8" r="0.31"/><circle cx="261.8" cy="45.0" r="0.24"/><circle cx="271.6" cy="55.5" r="0.30"/><circle cx="269.2" cy="33.2" r="0.22"/><circle cx="274.3" cy="27.7" r="0.43"/><circle cx="270.0" cy="56.4" r="0.43"/><circle cx="279.2" cy="67.0" r="0.32"/><circle cx="282.3" cy="35.0" r="0.32"/><circle cx="282.8" cy="11.3" r="0.38"/><circle cx="268.7" cy="56.9" r="0.32"/><circle cx="288.6" cy="42.9" r="0.30"/><circle cx="280.9" cy="22.0" r="0.43"/><circle cx="265.4" cy="43.2" r="0.28"/><circle cx="251.7" cy="43.1" r="0.24"/><circle cx="283.1" cy="12.8" r="0.28"/><circle cx="284.6" cy="16.2" r="0.44"/><circle cx="280.6" cy="27.9" r="0.26"/><circle cx="284.5" cy="19.8" r="0.26"/><circle cx="277.3" cy="39.8" r="0.26"/><circle cx="260.1" cy="25.6" r="0.28"/><circle cx="275.0" cy="58.3" r="0.34"/><circle cx="254.4" cy="48.9" r="0.29"/><circle cx="273.4" cy="11.5" r="0.36"/><circle cx="280.4" cy="63.6" r="0.32"/><circle cx="283.9" cy="29.6" r="0.24"/><circle cx="258.6" cy="34.2" r="0.45"/><circle cx="273.6" cy="49.8" r="0.41"/><circle cx="278.2" cy="62.8" r="0.34"/><circle cx="247.4" cy="39.5" r="0.41"/><circle cx="268.8" cy="49.8" r="0.22"/><circle cx="272.3" cy="61.7" r="0.29"/><circle cx="261.4" cy="27.4" r="0.23"/><circle cx="281.9" cy="45.5" r="0.36"/><circle cx="283.9" cy="36.7" r="0.32"/><circle cx="269.8" cy="25.1" r="0.42"/><circle cx="282.1" cy="26.5" r="0.26"/><circle cx="287.2" cy="25.4" r="0.31"/><circle cx="255.4" cy="39.8" r="0.24"/><circle cx="275.8" cy="48.5" r="0.27"/><circle cx="291.7" cy="26.0" r="0.39"/><circle cx="280.5" cy="16.7" r="0.30"/><circle cx="283.5" cy="37.3" r="0.43"/><circle cx="278.2" cy="28.7" r="0.44"/><circle cx="246.6" cy="41.1" r="0.22"/><circle cx="285.6" cy="41.4" r="0.42"/><circle cx="260.7" cy="38.8" r="0.33"/><circle cx="275.3" cy="21.2" r="0.41"/><circle cx="283.3" cy="24.4" r="0.34"/><circle cx="279.7" cy="19.1" r="0.37"/><circle cx="274.4" cy="35.4" r="0.36"/><circle cx="288.3" cy="26.4" r="0.25"/><circle cx="264.1" cy="42.5" r="0.44"/><circle cx="259.4" cy="33.4" r="0.26"/><circle cx="262.4" cy="47.2" r="0.21"/><circle cx="258.0" cy="32.4" r="0.23"/><circle cx="287.3" cy="30.5" r="0.23"/><circle cx="268.2" cy="22.6" r="0.43"/><circle cx="288.7" cy="21.3" r="0.40"/><circle cx="267.0" cy="32.9" r="0.39"/><circle cx="280.7" cy="27.9" r="0.21"/><circle cx="258.8" cy="29.2" r="0.21"/><circle cx="272.8" cy="65.1" r="0.25"/><circle cx="278.5" cy="16.4" r="0.39"/><circle cx="250.3" cy="36.7" r="0.37"/><circle cx="277.0" cy="71.6" r="0.36"/><circle cx="276.5" cy="51.2" r="0.30"/><circle cx="268.9" cy="29.9" r="0.25"/><circle cx="279.4" cy="59.7" r="0.28"/><circle cx="262.1" cy="39.3" r="0.24"/><circle cx="279.7" cy="61.8" r="0.39"/><circle cx="277.0" cy="70.2" r="0.23"/><circle cx="285.3" cy="30.9" r="0.37"/><circle cx="292.8" cy="25.7" r="0.38"/><circle cx="281.8" cy="44.6" r="0.26"/><circle cx="249.6" cy="38.4" r="0.41"/><circle cx="277.8" cy="63.5" r="0.31"/><circle cx="286.1" cy="28.6" r="0.45"/><circle cx="284.6" cy="47.0" r="0.29"/><circle cx="256.0" cy="35.8" r="0.42"/><circle cx="277.2" cy="50.8" r="0.30"/><circle cx="273.2" cy="32.3" r="0.40"/><circle cx="271.8" cy="44.9" r="0.21"/><circle cx="260.3" cy="26.3" r="0.32"/><circle cx="286.6" cy="38.0" r="0.30"/><circle cx="271.2" cy="31.5" r="0.23"/><circle cx="286.3" cy="34.1" r="0.36"/><circle cx="255.0" cy="33.8" r="0.21"/><circle cx="278.0" cy="30.4" r="0.22"/><circle cx="257.5" cy="49.0" r="0.25"/><circle cx="280.3" cy="54.9" r="0.42"/><circle cx="282.9" cy="42.1" r="0.40"/><circle cx="263.8" cy="37.8" r="0.43"/><circle cx="272.0" cy="36.0" r="0.36"/><circle cx="277.5" cy="11.1" r="0.39"/><circle cx="259.8" cy="28.8" r="0.30"/><circle cx="291.9" cy="28.2" r="0.39"/><circle cx="274.9" cy="32.1" r="0.35"/><circle cx="259.7" cy="42.1" r="0.38"/><circle cx="251.4" cy="46.6" r="0.39"/><circle cx="261.1" cy="26.9" r="0.35"/><circle cx="279.3" cy="43.7" r="0.37"/><circle cx="282.9" cy="19.5" r="0.44"/><circle cx="283.0" cy="41.8" r="0.22"/><circle cx="259.8" cy="47.7" r="0.35"/><circle cx="273.5" cy="19.5" r="0.25"/><circle cx="263.9" cy="41.3" r="0.22"/><circle cx="284.4" cy="57.9" r="0.21"/><circle cx="262.9" cy="29.9" r="0.27"/><circle cx="276.4" cy="25.3" r="0.29"/><circle cx="285.4" cy="45.4" r="0.21"/><circle cx="292.1" cy="18.4" r="0.25"/><circle cx="264.0" cy="48.7" r="0.35"/><circle cx="269.2" cy="53.6" r="0.22"/><circle cx="281.8" cy="41.1" r="0.26"/><circle cx="280.0" cy="30.2" r="0.40"/><circle cx="283.4" cy="17.7" r="0.41"/><circle cx="274.3" cy="37.1" r="0.22"/><circle cx="283.7" cy="10.2" r="0.35"/><circle cx="261.3" cy="49.1" r="0.22"/><circle cx="270.1" cy="35.8" r="0.21"/><circle cx="253.4" cy="40.0" r="0.23"/><circle cx="276.8" cy="42.9" r="0.43"/><circle cx="277.8" cy="13.1" r="0.44"/></g>
<path d="M235.2 69.3 L236.1 68.5 L236.5 68.1 L236.6 67.4 L237.6 66.9 L237.8 66.2 L238.6 65.8 L239.1 64.9 L239.9 64.5 L240.5 63.7 L241.3 63.2 L241.7 62.0 L241.9 60.9 L242.5 60.4 L242.7 59.7 L242.6 60.4 L242.8 61.4 L242.7 62.0 L243.3 62.8 L243.5 63.3 L244.6 64.1 L244.2 64.6 L244.2 65.5 L244.1 66.8 L243.8 67.3 L243.7 68.3 L242.8 69.3 L241.7 69.2 L240.5 69.1 L239.9 69.1 L238.6 69.6 L238.0 69.7 L237.0 70.0 L236.2 69.8Z" fill="#a9a9a9"/>
<path d="M244.4 68.4 L246.3 64.1" stroke="#a9a9a9" stroke-width="1.50" stroke-linecap="round"/>
<path d="M246.5 69.4 L248.9 63.2" stroke="#a9a9a9" stroke-width="1.70" stroke-linecap="round"/>
<path d="M248.9 67.7 L251.4 63.4" stroke="#a9a9a9" stroke-width="1.50" stroke-linecap="round"/>
<path d="M241.2 67.9 L243.5 64.4" stroke="#a9a9a9" stroke-width="1.20" stroke-linecap="round"/>
<path d="M239.1 68.3 L240.9 65.8" stroke="#fff" stroke-width="0.35" opacity="0.7"/>
<path d="M241.5 68.8 L242.5 67.0" stroke="#fff" stroke-width="0.35" opacity="0.7"/>
<path d="M352.7 61.0 L354.0 59.9 L355.8 59.2 L356.4 59.7 L357.6 60.1 L358.1 60.0 L359.2 60.9 L360.3 61.2 L360.8 62.3 L361.5 62.8 L362.5 63.8 L363.4 64.7 L364.0 66.0 L364.3 66.6 L364.6 68.5 L364.5 69.9 L363.4 70.7 L361.4 71.2 L360.0 71.1 L358.7 69.8 L357.8 68.9 L357.7 68.0 L356.5 67.9 L355.0 67.2 L353.8 66.1 L353.1 64.7 L352.8 63.5 L352.6 62.6Z" fill="#a0522d"/>
<circle cx="356.4" cy="64.0" r="0.45" fill="#fff" opacity="0.7"/>
<circle cx="359.1" cy="68.0" r="0.45" fill="#fff" opacity="0.7"/>
<circle cx="361.0" cy="65.6" r="0.45" fill="#fff" opacity="0.7"/>
<path d="M241.7 70.4 L241.2 72.1" stroke="#ff7f50" stroke-width="1.20" stroke-linecap="round"/>
<path d="M241.1 72.3 L240.5 74.4" stroke="#66cd00" stroke-width="1.20" stroke-linecap="round"/>
<circle cx="245.5" cy="81.3" r="1.70" fill="#ff7f50"/>
<path d="M245.2 82.0 L244.0 86.2" stroke="#ff7f50" stroke-width="1.70" stroke-linecap="round"/>
<path d="M244.0 86.4 L244.5 88.4" stroke="#66cd00" stroke-width="1.50" stroke-linecap="round"/>
<path d="M276.7 88.3 L275.2 89.8" stroke="#ffa500" stroke-width="1.30" stroke-linecap="round"/>
<path d="M275.0 90.0 L274.2 90.7" stroke="#ff3000" stroke-width="1.30" stroke-linecap="round"/>
<circle cx="278.3" cy="102.0" r="0.90" fill="#ffa500"/>
<circle cx="280.0" cy="105.6" r="0.95" fill="#ff83fa"/>
<path d="M284.0 109.9 L284.9 111.0" stroke="#00e000" stroke-width="1.50" stroke-linecap="round"/>
<path d="M285.2 111.4 L285.7 112.2" stroke="#0000ff" stroke-width="1.50" stroke-linecap="round"/>
<circle cx="286.1" cy="113.3" r="0.80" fill="#0000ff"/>
<circle cx="286.5" cy="114.8" r="1.05" fill="#a020f0"/>
<path d="M274.0 112.1 L275.5 111.0" stroke="#ff4500" stroke-width="1.30" stroke-linecap="round"/>
<circle cx="276.3" cy="110.3" r="0.60" fill="#ffa500"/>
<path d="M230.2 3 V121.55 H370.3" fill="none" stroke="#969696" stroke-width="1.2"/>
<path d="M228.7 42.5 H230.3 M228.7 88.3 H230.3 M274.8 121.5 V123.2 M330 121.5 V123.2" stroke="#666" stroke-width="0.6"/>
<g font-family="Liberation Sans, sans-serif" font-size="5.1" fill="#333" stroke="#333" stroke-width="0.12">
<text x="227" y="44.2" text-anchor="end">0</text><text x="227" y="90.3" text-anchor="end">-10</text>
<text x="274.8" y="128.4" text-anchor="middle">0</text><text x="330" y="128.4" text-anchor="middle">10</text></g>
<g font-family="Liberation Sans, sans-serif" font-size="6.1" fill="#222" stroke="#222" stroke-width="0.15">
<text x="300" y="136.2" text-anchor="middle">UMAP_1</text>
<text transform="translate(216.1 62.7) rotate(-90)" text-anchor="middle" font-size="6.2">UMAP_2</text></g>
<g font-family="Liberation Sans, sans-serif" font-size="5.37" fill="#222" stroke="#222" stroke-width="0.1">
<circle cx="379.5" cy="32.90" r="1.85" fill="#a9a9a9" stroke="none"/><text x="386.2" y="34.70">TBLCs</text>
<circle cx="379.5" cy="39.73" r="1.85" fill="#ff0000" stroke="none"/><text x="386.2" y="41.53">Early 2C and Zygote</text>
<circle cx="379.5" cy="46.57" r="1.85" fill="#ffa500" stroke="none"/><text x="386.2" y="48.37">Mid-Late 2 Cell</text>
<circle cx="379.5" cy="53.41" r="1.85" fill="#ff83fa" stroke="none"/><text x="386.2" y="55.20">4 Cell</text>
<circle cx="379.5" cy="60.24" r="1.85" fill="#00ee00" stroke="none"/><text x="386.2" y="62.04">8 Cell</text>
<circle cx="379.5" cy="67.07" r="1.85" fill="#0000ff" stroke="none"/><text x="386.2" y="68.87">8-16 Cell</text>
<circle cx="379.5" cy="73.91" r="1.85" fill="#a020f0" stroke="none"/><text x="386.2" y="75.71">16 Cell</text>
<circle cx="379.5" cy="80.75" r="1.85" fill="#ff7f50" stroke="none"/><text x="386.2" y="82.55">Early-Mid Blastocyst</text>
<circle cx="379.5" cy="87.58" r="1.85" fill="#66cd00" stroke="none"/><text x="386.2" y="89.38">Mid-Late Blastocyst</text>
<circle cx="379.5" cy="94.41" r="1.85" fill="#a0522d" stroke="none"/><text x="386.2" y="96.21">MEF</text>
</g>
<text x="324.9" y="152.6" text-anchor="middle" font-family="Liberation Serif, serif" font-size="9.1" font-weight="bold" fill="#111">(B)</text>
<path d="M48.7 237.20 H96.1" stroke="#bbb" stroke-width="0.5"/>
<circle cx="62.3" cy="236.70" r="0.3" fill="#777"/>
<path d="M18.0 237.20 H25.6" stroke="#999" stroke-width="0.5"/>
<path d="M15.8 165.8 V240.5 H97.6" fill="none" stroke="#777" stroke-width="0.55"/>
<g font-family="Liberation Sans, sans-serif" font-size="2.7" fill="#111" stroke="#111" stroke-width="0.12" text-anchor="end">
<text x="14.2" y="238.10">0.0</text>
<text x="14.2" y="220.10">0.2</text>
<text x="14.2" y="202.20">0.4</text>
<text x="14.2" y="184.20">0.6</text>
</g>
<path d="M14.9 237.20 H15.8 M14.9 219.20 H15.8 M14.9 201.30 H15.8 M14.9 183.30 H15.8 M21.80 240.5 V241.4 M31.93 240.5 V241.4 M42.06 240.5 V241.4 M52.19 240.5 V241.4 M62.32 240.5 V241.4 M72.45 240.5 V241.4 M82.58 240.5 V241.4 M92.71 240.5 V241.4 " stroke="#777" stroke-width="0.35"/>
<text x="56.7" y="163.2" text-anchor="middle" font-family="Liberation Sans, sans-serif" font-size="4.0" font-weight="bold" font-style="italic" fill="#000" stroke="#000" stroke-width="0.1">Zscan4a</text>
<text transform="translate(7.7 203.0) rotate(-90)" text-anchor="middle" font-family="Liberation Sans, sans-serif" font-size="2.9" fill="#000" stroke="#000" stroke-width="0.14">Expression Level</text>
<text x="55.8" y="263.5" text-anchor="middle" font-family="Liberation Sans, sans-serif" font-size="2.9" fill="#000" stroke="#000" stroke-width="0.14">Identity</text>
<g font-family="Liberation Sans, sans-serif" font-size="2.66" fill="#000" stroke="#000" stroke-width="0.14" text-anchor="end">
<text transform="translate(22.70 243.1) rotate(-45)">Early 2C and Zygote</text>
<text transform="translate(32.83 243.1) rotate(-45)">Mid-Late 2 Cell</text>
<text transform="translate(42.96 243.1) rotate(-45)">4 Cell</text>
<text transform="translate(53.09 243.1) rotate(-45)">8 Cell</text>
<text transform="translate(63.22 243.1) rotate(-45)">8-16 Cell</text>
<text transform="translate(73.35 243.1) rotate(-45)">16 Cell</text>
<text transform="translate(83.48 243.1) rotate(-45)">Early-Mid Blastocyst</text>
<text transform="translate(93.61 243.1) rotate(-45)">Mid-Late Blastocyst</text>
</g>
<path d="M31.20 168.60 L31.20 170.17 L31.20 171.73 L31.19 173.30 L31.19 174.87 L31.18 176.43 L31.18 178.00 L31.17 179.65 L31.16 181.30 L31.14 182.95 L31.12 184.60 L31.11 186.25 L31.10 187.90 L31.01 189.00 L30.75 190.10 L30.40 191.20 L30.05 192.30 L29.79 193.40 L29.70 194.50 L29.59 195.47 L29.30 196.43 L28.90 197.40 L28.50 198.37 L28.21 199.33 L28.10 200.30 L28.04 201.50 L27.89 202.70 L27.68 203.90 L27.46 205.10 L27.31 206.30 L27.25 207.50 L27.22 208.97 L27.14 210.43 L27.03 211.90 L26.91 213.37 L26.83 214.83 L26.80 216.30 L26.82 217.75 L26.88 219.20 L26.95 220.65 L27.03 222.10 L27.08 223.55 L27.10 225.00 L27.14 225.97 L27.24 226.93 L27.38 227.90 L27.51 228.87 L27.61 229.83 L27.65 230.80 L27.73 231.28 L27.96 231.77 L28.28 232.25 L28.59 232.73 L28.82 233.22 L28.90 233.70 L34.30 233.70 L34.38 233.22 L34.61 232.73 L34.93 232.25 L35.24 231.77 L35.47 231.28 L35.55 230.80 L35.59 229.83 L35.69 228.87 L35.83 227.90 L35.96 226.93 L36.06 225.97 L36.10 225.00 L36.12 223.55 L36.18 222.10 L36.25 220.65 L36.33 219.20 L36.38 217.75 L36.40 216.30 L36.37 214.83 L36.29 213.37 L36.17 211.90 L36.06 210.43 L35.98 208.97 L35.95 207.50 L35.89 206.30 L35.74 205.10 L35.52 203.90 L35.31 202.70 L35.16 201.50 L35.10 200.30 L34.99 199.33 L34.70 198.37 L34.30 197.40 L33.90 196.43 L33.61 195.47 L33.50 194.50 L33.41 193.40 L33.15 192.30 L32.80 191.20 L32.45 190.10 L32.19 189.00 L32.10 187.90 L32.09 186.25 L32.08 184.60 L32.06 182.95 L32.04 181.30 L32.03 179.65 L32.02 178.00 L32.02 176.43 L32.02 174.87 L32.01 173.30 L32.01 171.73 L32.00 170.17 L32.00 168.60Z" fill="#d98c0a" stroke="#6b4a10" stroke-width="0.25" stroke-linejoin="round"/>
<path d="M41.68 226.20 L41.68 227.00 L41.66 227.80 L41.65 228.60 L41.63 229.40 L41.62 230.20 L41.62 231.00 L41.61 231.60 L41.58 232.20 L41.53 232.80 L41.49 233.40 L41.46 234.00 L41.45 234.60 L41.38 234.80 L41.19 235.00 L40.92 235.20 L40.66 235.40 L40.47 235.60 L40.40 235.80 L40.30 235.97 L40.02 236.13 L39.65 236.30 L39.27 236.47 L39.00 236.63 L38.90 236.80 L38.89 236.88 L38.88 236.97 L38.85 237.05 L38.82 237.13 L38.81 237.22 L38.80 237.30 L44.80 237.30 L44.79 237.22 L44.77 237.13 L44.75 237.05 L44.72 236.97 L44.71 236.88 L44.70 236.80 L44.60 236.63 L44.32 236.47 L43.95 236.30 L43.57 236.13 L43.30 235.97 L43.20 235.80 L43.13 235.60 L42.94 235.40 L42.67 235.20 L42.41 235.00 L42.22 234.80 L42.15 234.60 L42.14 234.00 L42.11 233.40 L42.06 232.80 L42.02 232.20 L41.99 231.60 L41.98 231.00 L41.98 230.20 L41.96 229.40 L41.95 228.60 L41.93 227.80 L41.92 227.00 L41.92 226.20Z" fill="#5daa1e" stroke="#3c7a10" stroke-width="0.25" stroke-linejoin="round"/>
<circle cx="21.5" cy="236.4" r="0.45" fill="#444"/>
<path d="M145.6 237.20 H193.0" stroke="#bbb" stroke-width="0.5"/>
<circle cx="159.2" cy="236.70" r="0.3" fill="#777"/>
<path d="M114.9 237.20 H122.5" stroke="#999" stroke-width="0.5"/>
<path d="M112.7 165.8 V240.5 H194.5" fill="none" stroke="#777" stroke-width="0.55"/>
<g font-family="Liberation Sans, sans-serif" font-size="2.7" fill="#111" stroke="#111" stroke-width="0.12" text-anchor="end">
<text x="111.1" y="238.10">0.0</text>
<text x="111.1" y="220.50">0.2</text>
<text x="111.1" y="202.90">0.4</text>
<text x="111.1" y="185.30">0.6</text>
<text x="111.1" y="167.70">0.8</text>
</g>
<path d="M111.8 237.20 H112.7 M111.8 219.60 H112.7 M111.8 202.00 H112.7 M111.8 184.40 H112.7 M111.8 166.80 H112.7 M118.70 240.5 V241.4 M128.83 240.5 V241.4 M138.96 240.5 V241.4 M149.09 240.5 V241.4 M159.22 240.5 V241.4 M169.35 240.5 V241.4 M179.48 240.5 V241.4 M189.61 240.5 V241.4 " stroke="#777" stroke-width="0.35"/>
<text x="153.6" y="163.2" text-anchor="middle" font-family="Liberation Sans, sans-serif" font-size="4.0" font-weight="bold" font-style="italic" fill="#000" stroke="#000" stroke-width="0.1">Zscan4b</text>
<text transform="translate(104.6 203.0) rotate(-90)" text-anchor="middle" font-family="Liberation Sans, sans-serif" font-size="2.9" fill="#000" stroke="#000" stroke-width="0.14">Expression Level</text>
<text x="152.7" y="263.5" text-anchor="middle" font-family="Liberation Sans, sans-serif" font-size="2.9" fill="#000" stroke="#000" stroke-width="0.14">Identity</text>
<g font-family="Liberation Sans, sans-serif" font-size="2.66" fill="#000" stroke="#000" stroke-width="0.14" text-anchor="end">
<text transform="translate(119.60 243.1) rotate(-45)">Early 2C and Zygote</text>
<text transform="translate(129.73 243.1) rotate(-45)">Mid-Late 2 Cell</text>
<text transform="translate(139.86 243.1) rotate(-45)">4 Cell</text>
<text transform="translate(149.99 243.1) rotate(-45)">8 Cell</text>
<text transform="translate(160.12 243.1) rotate(-45)">8-16 Cell</text>
<text transform="translate(170.25 243.1) rotate(-45)">16 Cell</text>
<text transform="translate(180.38 243.1) rotate(-45)">Early-Mid Blastocyst</text>
<text transform="translate(190.51 243.1) rotate(-45)">Mid-Late Blastocyst</text>
</g>
<path d="M127.90 168.60 L127.90 170.00 L127.90 171.40 L127.90 172.80 L127.90 174.20 L127.90 175.60 L127.90 177.00 L127.92 177.97 L127.96 178.93 L128.03 179.90 L128.09 180.87 L128.13 181.83 L128.15 182.80 L128.08 184.00 L127.90 185.20 L127.65 186.40 L127.40 187.60 L127.22 188.80 L127.15 190.00 L127.06 191.23 L126.82 192.47 L126.50 193.70 L126.17 194.93 L125.94 196.17 L125.85 197.40 L125.77 198.60 L125.55 199.80 L125.25 201.00 L124.95 202.20 L124.73 203.40 L124.65 204.60 L124.60 205.93 L124.47 207.27 L124.30 208.60 L124.12 209.93 L124.00 211.27 L123.95 212.60 L123.99 213.70 L124.11 214.80 L124.27 215.90 L124.44 217.00 L124.56 218.10 L124.60 219.20 L124.65 220.17 L124.77 221.13 L124.95 222.10 L125.12 223.07 L125.25 224.03 L125.30 225.00 L125.34 225.92 L125.44 226.83 L125.57 227.75 L125.71 228.67 L125.81 229.58 L125.85 230.50 L131.35 230.50 L131.39 229.58 L131.49 228.67 L131.62 227.75 L131.76 226.83 L131.86 225.92 L131.90 225.00 L131.95 224.03 L132.07 223.07 L132.25 222.10 L132.42 221.13 L132.55 220.17 L132.60 219.20 L132.64 218.10 L132.76 217.00 L132.92 215.90 L133.09 214.80 L133.21 213.70 L133.25 212.60 L133.20 211.27 L133.07 209.93 L132.90 208.60 L132.72 207.27 L132.60 205.93 L132.55 204.60 L132.47 203.40 L132.25 202.20 L131.95 201.00 L131.65 199.80 L131.43 198.60 L131.35 197.40 L131.26 196.17 L131.03 194.93 L130.70 193.70 L130.38 192.47 L130.14 191.23 L130.05 190.00 L129.98 188.80 L129.80 187.60 L129.55 186.40 L129.30 185.20 L129.12 184.00 L129.05 182.80 L129.07 181.83 L129.11 180.87 L129.17 179.90 L129.24 178.93 L129.28 177.97 L129.30 177.00 L129.30 175.60 L129.30 174.20 L129.30 172.80 L129.30 171.40 L129.30 170.00 L129.30 168.60Z" fill="#d98c0a" stroke="#6b4a10" stroke-width="0.25" stroke-linejoin="round"/>
<path d="M138.20 231.30 L138.19 231.70 L138.16 232.10 L138.12 232.50 L138.09 232.90 L138.06 233.30 L138.05 233.70 L137.96 233.92 L137.71 234.13 L137.38 234.35 L137.04 234.57 L136.79 234.78 L136.70 235.00 L136.55 235.22 L136.15 235.43 L135.60 235.65 L135.05 235.87 L134.65 236.08 L134.50 236.30 L134.47 236.45 L134.40 236.60 L134.30 236.75 L134.20 236.90 L134.13 237.05 L134.10 237.20 L134.10 237.23 L134.10 237.27 L134.10 237.30 L134.10 237.33 L134.10 237.37 L134.10 237.40 L143.30 237.40 L143.30 237.37 L143.30 237.33 L143.30 237.30 L143.30 237.27 L143.30 237.23 L143.30 237.20 L143.27 237.05 L143.20 236.90 L143.10 236.75 L143.00 236.60 L142.93 236.45 L142.90 236.30 L142.75 236.08 L142.35 235.87 L141.80 235.65 L141.25 235.43 L140.85 235.22 L140.70 235.00 L140.61 234.78 L140.36 234.57 L140.02 234.35 L139.69 234.13 L139.44 233.92 L139.35 233.70 L139.34 233.30 L139.31 232.90 L139.27 232.50 L139.24 232.10 L139.21 231.70 L139.20 231.30Z" fill="#5daa1e" stroke="#3c7a10" stroke-width="0.25" stroke-linejoin="round"/>
<path d="M114.6 237.2 H122.4 L119.2 236.2 L118.4 234.4 L117.6 236.2Z" fill="#e8747c" stroke="#c44" stroke-width="0.2"/>
<path d="M47.7 347.40 h8.9 M57.8 347.40 h8.9 M68.0 347.40 h8.9 M78.1 347.40 h8.9 M88.2 347.40 h8.9 " stroke="#c4c4c4" stroke-width="0.8"/>
<circle cx="62.3" cy="346.60" r="0.35" fill="#555"/>
<path d="M18.0 347.40 H25.6" stroke="#999" stroke-width="0.5"/>
<path d="M15.8 276.8 V351.5 H97.6" fill="none" stroke="#777" stroke-width="0.55"/>
<g font-family="Liberation Sans, sans-serif" font-size="2.7" fill="#111" stroke="#111" stroke-width="0.12" text-anchor="end">
<text x="14.2" y="348.30">0.0</text>
<text x="14.2" y="327.90">0.5</text>
<text x="14.2" y="307.40">1.0</text>
<text x="14.2" y="286.80">1.5</text>
</g>
<path d="M14.9 347.40 H15.8 M14.9 327.00 H15.8 M14.9 306.50 H15.8 M14.9 285.90 H15.8 M21.80 351.5 V352.4 M31.93 351.5 V352.4 M42.06 351.5 V352.4 M52.19 351.5 V352.4 M62.32 351.5 V352.4 M72.45 351.5 V352.4 M82.58 351.5 V352.4 M92.71 351.5 V352.4 " stroke="#777" stroke-width="0.35"/>
<text x="56.7" y="274.2" text-anchor="middle" font-family="Liberation Sans, sans-serif" font-size="4.0" font-weight="bold" font-style="italic" fill="#000" stroke="#000" stroke-width="0.1">Zscan4c</text>
<text transform="translate(7.7 314.0) rotate(-90)" text-anchor="middle" font-family="Liberation Sans, sans-serif" font-size="2.9" fill="#000" stroke="#000" stroke-width="0.14">Expression Level</text>
<text x="55.8" y="374.5" text-anchor="middle" font-family="Liberation Sans, sans-serif" font-size="2.9" fill="#000" stroke="#000" stroke-width="0.14">Identity</text>
<g font-family="Liberation Sans, sans-serif" font-size="2.66" fill="#000" stroke="#000" stroke-width="0.14" text-anchor="end">
<text transform="translate(22.70 354.1) rotate(-45)">Early 2C and Zygote</text>
<text transform="translate(32.83 354.1) rotate(-45)">Mid-Late 2 Cell</text>
<text transform="translate(42.96 354.1) rotate(-45)">4 Cell</text>
<text transform="translate(53.09 354.1) rotate(-45)">8 Cell</text>
<text transform="translate(63.22 354.1) rotate(-45)">8-16 Cell</text>
<text transform="translate(73.35 354.1) rotate(-45)">16 Cell</text>
<text transform="translate(83.48 354.1) rotate(-45)">Early-Mid Blastocyst</text>
<text transform="translate(93.61 354.1) rotate(-45)">Mid-Late Blastocyst</text>
</g>
<path d="M31.90 280.00 L31.90 281.83 L31.89 283.67 L31.88 285.50 L31.86 287.33 L31.85 289.17 L31.85 291.00 L31.84 292.43 L31.81 293.87 L31.77 295.30 L31.74 296.73 L31.71 298.17 L31.70 299.60 L31.56 300.22 L31.19 300.83 L30.67 301.45 L30.16 302.07 L29.79 302.68 L29.65 303.30 L29.55 303.92 L29.29 304.53 L28.92 305.15 L28.56 305.77 L28.30 306.38 L28.20 307.00 L28.15 307.58 L28.01 308.17 L27.82 308.75 L27.64 309.33 L27.50 309.92 L27.45 310.50 L27.51 311.08 L27.69 311.67 L27.92 312.25 L28.16 312.83 L28.34 313.42 L28.40 314.00 L28.51 314.50 L28.80 315.00 L29.20 315.50 L29.60 316.00 L29.89 316.50 L30.00 317.00 L30.08 317.75 L30.29 318.50 L30.57 319.25 L30.86 320.00 L31.07 320.75 L31.15 321.50 L31.15 322.95 L31.16 324.40 L31.17 325.85 L31.19 327.30 L31.20 328.75 L31.20 330.20 L31.18 330.58 L31.12 330.97 L31.05 331.35 L30.97 331.73 L30.92 332.12 L30.90 332.50 L30.87 332.83 L30.80 333.17 L30.70 333.50 L30.60 333.83 L30.53 334.17 L30.50 334.50 L34.30 334.50 L34.27 334.17 L34.20 333.83 L34.10 333.50 L34.00 333.17 L33.93 332.83 L33.90 332.50 L33.88 332.12 L33.82 331.73 L33.75 331.35 L33.67 330.97 L33.62 330.58 L33.60 330.20 L33.60 328.75 L33.61 327.30 L33.62 325.85 L33.64 324.40 L33.65 322.95 L33.65 321.50 L33.73 320.75 L33.94 320.00 L34.23 319.25 L34.51 318.50 L34.72 317.75 L34.80 317.00 L34.91 316.50 L35.20 316.00 L35.60 315.50 L36.00 315.00 L36.29 314.50 L36.40 314.00 L36.46 313.42 L36.64 312.83 L36.88 312.25 L37.11 311.67 L37.29 311.08 L37.35 310.50 L37.30 309.92 L37.16 309.33 L36.98 308.75 L36.79 308.17 L36.65 307.58 L36.60 307.00 L36.50 306.38 L36.24 305.77 L35.88 305.15 L35.51 304.53 L35.25 303.92 L35.15 303.30 L35.01 302.68 L34.64 302.07 L34.12 301.45 L33.61 300.83 L33.24 300.22 L33.10 299.60 L33.09 298.17 L33.06 296.73 L33.02 295.30 L32.99 293.87 L32.96 292.43 L32.95 291.00 L32.95 289.17 L32.94 287.33 L32.92 285.50 L32.91 283.67 L32.90 281.83 L32.90 280.00Z" fill="#d98c0a" stroke="#6b4a10" stroke-width="0.25" stroke-linejoin="round"/>
<path d="M42.35 341.80 L42.26 342.17 L42.01 342.53 L41.67 342.90 L41.34 343.27 L41.09 343.63 L41.00 344.00 L40.90 344.33 L40.62 344.67 L40.25 345.00 L39.88 345.33 L39.60 345.67 L39.50 346.00 L39.40 346.30 L39.12 346.60 L38.75 346.90 L38.38 347.20 L38.10 347.50 L38.00 347.80 L38.00 347.82 L38.00 347.83 L38.00 347.85 L38.00 347.87 L38.00 347.88 L38.00 347.90 L47.00 347.90 L47.00 347.88 L47.00 347.87 L47.00 347.85 L47.00 347.83 L47.00 347.82 L47.00 347.80 L46.90 347.50 L46.62 347.20 L46.25 346.90 L45.88 346.60 L45.60 346.30 L45.50 346.00 L45.40 345.67 L45.12 345.33 L44.75 345.00 L44.38 344.67 L44.10 344.33 L44.00 344.00 L43.91 343.63 L43.66 343.27 L43.33 342.90 L42.99 342.53 L42.74 342.17 L42.65 341.80Z" fill="#5daa1e" stroke="#3c7a10" stroke-width="0.25" stroke-linejoin="round"/>
<path d="M17.8 347.5 H26.5 M22.4 347.5 V344.4" stroke="#555" stroke-width="0.4"/><circle cx="22.4" cy="344" r="0.4" fill="#c33"/>
<path d="M144.6 347.50 h8.9 M154.7 347.50 h8.9 M164.9 347.50 h8.9 M175.0 347.50 h8.9 M185.1 347.50 h8.9 " stroke="#c4c4c4" stroke-width="0.8"/>
<circle cx="159.2" cy="346.70" r="0.35" fill="#555"/>
<path d="M114.9 347.50 H122.5" stroke="#999" stroke-width="0.5"/>
<path d="M112.7 276.8 V351.5 H194.5" fill="none" stroke="#777" stroke-width="0.55"/>
<g font-family="Liberation Sans, sans-serif" font-size="2.7" fill="#111" stroke="#111" stroke-width="0.12" text-anchor="end">
<text x="111.1" y="348.40">0.0</text>
<text x="111.1" y="329.20">0.5</text>
<text x="111.1" y="310.10">1.0</text>
<text x="111.1" y="290.90">1.5</text>
</g>
<path d="M111.8 347.50 H112.7 M111.8 328.30 H112.7 M111.8 309.20 H112.7 M111.8 290.00 H112.7 M118.70 351.5 V352.4 M128.83 351.5 V352.4 M138.96 351.5 V352.4 M149.09 351.5 V352.4 M159.22 351.5 V352.4 M169.35 351.5 V352.4 M179.48 351.5 V352.4 M189.61 351.5 V352.4 " stroke="#777" stroke-width="0.35"/>
<text x="153.6" y="274.2" text-anchor="middle" font-family="Liberation Sans, sans-serif" font-size="4.0" font-weight="bold" font-style="italic" fill="#000" stroke="#000" stroke-width="0.1">Zscan4d</text>
<text transform="translate(104.6 314.0) rotate(-90)" text-anchor="middle" font-family="Liberation Sans, sans-serif" font-size="2.9" fill="#000" stroke="#000" stroke-width="0.14">Expression Level</text>
<text x="152.7" y="374.5" text-anchor="middle" font-family="Liberation Sans, sans-serif" font-size="2.9" fill="#000" stroke="#000" stroke-width="0.14">Identity</text>
<g font-family="Liberation Sans, sans-serif" font-size="2.66" fill="#000" stroke="#000" stroke-width="0.14" text-anchor="end">
<text transform="translate(119.60 354.1) rotate(-45)">Early 2C and Zygote</text>
<text transform="translate(129.73 354.1) rotate(-45)">Mid-Late 2 Cell</text>
<text transform="translate(139.86 354.1) rotate(-45)">4 Cell</text>
<text transform="translate(149.99 354.1) rotate(-45)">8 Cell</text>
<text transform="translate(160.12 354.1) rotate(-45)">8-16 Cell</text>
<text transform="translate(170.25 354.1) rotate(-45)">16 Cell</text>
<text transform="translate(180.38 354.1) rotate(-45)">Early-Mid Blastocyst</text>
<text transform="translate(190.51 354.1) rotate(-45)">Mid-Late Blastocyst</text>
</g>
<path d="M128.20 280.00 L128.19 281.83 L128.18 283.67 L128.15 285.50 L128.12 287.33 L128.11 289.17 L128.10 291.00 L128.07 291.83 L127.97 292.67 L127.85 293.50 L127.72 294.33 L127.63 295.17 L127.60 296.00 L127.51 296.83 L127.28 297.67 L126.95 298.50 L126.62 299.33 L126.39 300.17 L126.30 301.00 L126.22 302.47 L126.00 303.93 L125.70 305.40 L125.40 306.87 L125.18 308.33 L125.10 309.80 L125.03 311.25 L124.83 312.70 L124.55 314.15 L124.28 315.60 L124.07 317.05 L124.00 318.50 L123.99 318.92 L123.97 319.33 L123.95 319.75 L123.92 320.17 L123.91 320.58 L123.90 321.00 L123.93 321.67 L124.00 322.33 L124.10 323.00 L124.20 323.67 L124.27 324.33 L124.30 325.00 L124.36 325.83 L124.53 326.67 L124.75 327.50 L124.97 328.33 L125.14 329.17 L125.20 330.00 L125.30 331.00 L125.58 332.00 L125.95 333.00 L126.33 334.00 L126.60 335.00 L126.70 336.00 L126.75 336.48 L126.88 336.97 L127.05 337.45 L127.22 337.93 L127.35 338.42 L127.40 338.90 L129.60 338.90 L129.65 338.42 L129.78 337.93 L129.95 337.45 L130.12 336.97 L130.25 336.48 L130.30 336.00 L130.40 335.00 L130.68 334.00 L131.05 333.00 L131.43 332.00 L131.70 331.00 L131.80 330.00 L131.86 329.17 L132.03 328.33 L132.25 327.50 L132.47 326.67 L132.64 325.83 L132.70 325.00 L132.73 324.33 L132.80 323.67 L132.90 323.00 L133.00 322.33 L133.07 321.67 L133.10 321.00 L133.09 320.58 L133.07 320.17 L133.05 319.75 L133.03 319.33 L133.01 318.92 L133.00 318.50 L132.93 317.05 L132.72 315.60 L132.45 314.15 L132.18 312.70 L131.97 311.25 L131.90 309.80 L131.82 308.33 L131.60 306.87 L131.30 305.40 L131.00 303.93 L130.78 302.47 L130.70 301.00 L130.61 300.17 L130.38 299.33 L130.05 298.50 L129.72 297.67 L129.49 296.83 L129.40 296.00 L129.37 295.17 L129.28 294.33 L129.15 293.50 L129.03 292.67 L128.93 291.83 L128.90 291.00 L128.89 289.17 L128.88 287.33 L128.85 285.50 L128.82 283.67 L128.81 281.83 L128.80 280.00Z" fill="#d98c0a" stroke="#6b4a10" stroke-width="0.25" stroke-linejoin="round"/>
<path d="M138.00 344.30 L137.95 344.50 L137.80 344.70 L137.60 344.90 L137.40 345.10 L137.25 345.30 L137.20 345.50 L137.06 345.68 L136.68 345.87 L136.15 346.05 L135.63 346.23 L135.24 346.42 L135.10 346.60 L135.03 346.73 L134.85 346.87 L134.60 347.00 L134.35 347.13 L134.17 347.27 L134.10 347.40 L134.10 347.45 L134.10 347.50 L134.10 347.55 L134.10 347.60 L134.10 347.65 L134.10 347.70 L142.10 347.70 L142.10 347.65 L142.10 347.60 L142.10 347.55 L142.10 347.50 L142.10 347.45 L142.10 347.40 L142.03 347.27 L141.85 347.13 L141.60 347.00 L141.35 346.87 L141.17 346.73 L141.10 346.60 L140.96 346.42 L140.58 346.23 L140.05 346.05 L139.53 345.87 L139.14 345.68 L139.00 345.50 L138.95 345.30 L138.80 345.10 L138.60 344.90 L138.40 344.70 L138.25 344.50 L138.20 344.30Z" fill="#5daa1e" stroke="#3c7a10" stroke-width="0.25" stroke-linejoin="round"/>
<path d="M114.4 347.6 H122.4" stroke="#e07078" stroke-width="0.6"/><path d="M118.3 347.4 V340.4" stroke="#c0392b" stroke-width="0.35" stroke-dasharray="0.8 0.5"/><circle cx="118.3" cy="340" r="0.5" fill="#c0392b"/>
<text x="99.9" y="390.3" text-anchor="middle" font-family="Liberation Serif, serif" font-size="9.1" font-weight="bold" fill="#111">(C)</text>
<path d="M231.9 281.6 V331.1 M231.9 331.1 H334.6 M231.9 281.6 H244.5 M244.5 253.9 V309.3 M244.5 309.3 H298.5 M298.5 302.0 V316.6 M298.5 302.0 H334.6 M298.5 316.6 H334.6 M244.5 253.9 H253.2 M253.2 227.6 V280.3 M253.2 280.3 H287.5 M287.5 273.0 V287.5 M287.5 273.0 H334.6 M287.5 287.5 H334.6 M253.2 227.6 H281.5 M281.5 207.7 V247.6 M281.5 207.7 H303.4 M303.4 200.4 V214.9 M303.4 200.4 H334.6 M303.4 214.9 H334.6 M281.5 247.6 H320.4 M320.4 236.7 V258.5 M320.4 258.5 H334.6 M320.4 236.7 H325.8 M325.8 229.4 V244.0 M325.8 229.4 H334.6 M325.8 244.0 H334.6 " fill="none" stroke="#3c3c3c" stroke-width="0.75" stroke-linecap="square"/>
<g font-family="Liberation Sans, sans-serif" font-size="8.45" font-style="italic" fill="#111" stroke="#111" stroke-width="0.12">
<text x="335.6" y="203.3">Mid-Late 2 Cell</text>
<text x="335.6" y="217.8">4 Cell</text>
<text x="335.6" y="232.3">8-16 Cell</text>
<text x="335.6" y="246.9">8 Cell</text>
<text x="335.6" y="261.4">16 Cell</text>
<text x="335.6" y="275.9">TBLCs</text>
<text x="335.6" y="290.4">ESCs</text>
<text x="335.6" y="304.9">Mid-Late Blastocyst</text>
<text x="335.6" y="319.5">Early-Mid Blastocyst</text>
<text x="335.6" y="334.0">Early 2C and Zygote</text>
</g>
<text x="324.9" y="390.3" text-anchor="middle" font-family="Liberation Serif, serif" font-size="9.1" font-weight="bold" fill="#111">(D)</text>
<path d="M41.5 420.1 L95.8 404.4 M95.8 404.4 L167.6 413.0 M42.4 434.0 L95.9 416.4 M95.9 416.4 L166.8 426.6 M43.3 448.0 L95.9 428.4 M95.9 428.4 L166.0 440.4 M44.2 462.0 L96.0 440.5 M96.0 440.5 L165.1 454.2 M45.1 476.1 L96.1 452.5 M96.1 452.5 L164.3 468.0 M45.9 489.8 L96.1 464.3 M96.1 464.3 L163.5 481.4 M49.6 414.1 L54.3 497.5 M54.3 497.5 L128.8 520.5 M59.6 411.3 L63.3 492.6 M63.3 492.6 L136.1 514.6 M70.0 408.5 L72.7 487.4 M72.7 487.4 L143.7 508.5 M79.9 405.7 L81.8 482.4 M81.8 482.4 L151.1 502.5 M89.6 403.0 L90.6 477.6 M90.6 477.6 L158.3 496.8 M110.2 402.9 L109.5 478.2 M109.5 478.2 L61.9 506.5 M131.8 405.4 L129.5 483.8 M129.5 483.8 L84.7 513.6 M150.5 407.5 L146.8 488.6 M146.8 488.6 L104.4 519.8 " stroke="#dcdcdc" stroke-width="0.5" fill="none"/>
<path d="M41.5 420.1 l-4 1.3 M42.4 434.0 l-4 1.3 M43.3 448.0 l-4 1.3 M44.2 462.0 l-4 1.3 M45.1 476.1 l-4 1.3 M45.9 489.8 l-4 1.3 M46.7 501.7 l-4 1.3 M61.9 506.5 l-3.2 2.3 M84.7 513.6 l-3.2 2.3 M104.4 519.8 l-3.2 2.3 M128.8 520.5 l4.2 1.2 M136.1 514.6 l4.2 1.2 M143.7 508.5 l4.2 1.2 M151.1 502.5 l4.2 1.2 M158.3 496.8 l4.2 1.2 " stroke="#999" stroke-width="0.45" fill="none"/>
<path d="M41.3 416.4 L95.8 401.3 M95.8 401.3 L167.8 409.4 M167.8 409.4 L122.1 430.0 M122.1 430.0 L41.3 416.4 M41.3 416.4 L46.7 501.7 M167.8 409.4 L162.8 493.1 M122.1 430.0 L122.6 525.5 M162.8 493.1 L122.6 525.5 M122.6 525.5 L46.7 501.7 " stroke="#777" stroke-width="0.6" fill="none"/>
<path d="M46.7 501.7 L96.2 474.5 M96.2 474.5 L162.8 493.1 " stroke="#666" stroke-width="0.6" fill="none"/>
<path d="M95.8 401.3 L96.2 474.5 " stroke="#4a4a4a" stroke-width="1" fill="none"/>
<path d="M51.3 499.6 L90 477.7 M111.2 478.5 L149.1 488.1" stroke="#111" stroke-width="1.15" fill="none"/>
<text transform="translate(31.4 423.8) scale(0.85 1)" text-anchor="middle" font-family="Liberation Sans, sans-serif" font-size="3.30" font-weight="normal" fill="#444">0.4</text>
<text transform="translate(32.3 438.5) scale(0.85 1)" text-anchor="middle" font-family="Liberation Sans, sans-serif" font-size="3.30" font-weight="normal" fill="#444">0.2</text>
<text transform="translate(34.1 452.8) scale(0.85 1)" text-anchor="middle" font-family="Liberation Sans, sans-serif" font-size="3.30" font-weight="normal" fill="#444">0</text>
<text transform="translate(34.2 466.6) scale(0.85 1)" text-anchor="middle" font-family="Liberation Sans, sans-serif" font-size="3.30" font-weight="normal" fill="#444">-0.2</text>
<text transform="translate(35.8 479.8) scale(0.85 1)" text-anchor="middle" font-family="Liberation Sans, sans-serif" font-size="3.30" font-weight="normal" fill="#444">-0.4</text>
<text transform="translate(35.8 492.5) scale(0.85 1)" text-anchor="middle" font-family="Liberation Sans, sans-serif" font-size="3.30" font-weight="normal" fill="#444">-0.6</text>
<text transform="translate(37.5 505.5) scale(0.85 1)" text-anchor="middle" font-family="Liberation Sans, sans-serif" font-size="3.30" font-weight="normal" fill="#444">-0.8</text>
<text transform="translate(53.3 512.5) scale(0.85 1)" text-anchor="middle" font-family="Liberation Sans, sans-serif" font-size="3.30" font-weight="normal" fill="#444">0.4</text>
<text transform="translate(73.7 519.4) scale(0.85 1)" text-anchor="middle" font-family="Liberation Sans, sans-serif" font-size="3.30" font-weight="normal" fill="#444">0.6</text>
<text transform="translate(95.8 526.9) scale(0.85 1)" text-anchor="middle" font-family="Liberation Sans, sans-serif" font-size="3.30" font-weight="normal" fill="#444">0.8</text>
<text transform="translate(171.9 497.6) scale(0.85 1)" text-anchor="middle" font-family="Liberation Sans, sans-serif" font-size="3.30" font-weight="normal" fill="#444">-0.2</text>
<text transform="translate(163.9 503.8) scale(0.85 1)" text-anchor="middle" font-family="Liberation Sans, sans-serif" font-size="3.30" font-weight="normal" fill="#444">0</text>
<text transform="translate(157.1 510.2) scale(0.85 1)" text-anchor="middle" font-family="Liberation Sans, sans-serif" font-size="3.30" font-weight="normal" fill="#444">0.2</text>
<text transform="translate(149.1 517.0) scale(0.85 1)" text-anchor="middle" font-family="Liberation Sans, sans-serif" font-size="3.30" font-weight="normal" fill="#444">0.4</text>
<text transform="translate(141.6 524.4) scale(0.85 1)" text-anchor="middle" font-family="Liberation Sans, sans-serif" font-size="3.30" font-weight="normal" fill="#444">0.6</text>
<text transform="translate(64.0 529.1) scale(0.87 1)" text-anchor="middle" font-family="Liberation Sans, sans-serif" font-size="4.70" font-weight="bold" fill="#111">PC1 (14.0%)</text>
<text transform="translate(176.5 515.7) scale(0.87 1)" text-anchor="middle" font-family="Liberation Sans, sans-serif" font-size="4.70" font-weight="bold" fill="#111">PC3 (12.8%)</text>
<text transform="translate(18.2 466.9) scale(0.86 1)" text-anchor="middle" font-family="Liberation Sans, sans-serif" font-size="4.60" font-weight="bold" fill="#111">PC2 (17.5%)</text>
<path d="M158.6 434 L172.6 424 M159.8 435.7 L172.6 430.9 M161 437.5 L172.6 437.5" stroke="#777" stroke-width="0.35"/>
<text transform="translate(68.2 415.6) scale(0.86 1)" text-anchor="start" font-family="Liberation Sans, sans-serif" font-size="4.20" font-weight="bold" fill="#111">Mid-Late 2 Cell</text>
<text transform="translate(47.2 427.3) scale(0.86 1)" text-anchor="start" font-family="Liberation Sans, sans-serif" font-size="4.20" font-weight="bold" fill="#111">Early 2C and Zygote</text>
<text transform="translate(88.3 492.7) scale(0.69 1)" text-anchor="start" font-family="Liberation Sans, sans-serif" font-size="4.20" font-weight="bold" fill="#111">ESCs</text>
<text transform="translate(71.2 497.8) scale(0.70 1)" text-anchor="start" font-family="Liberation Sans, sans-serif" font-size="4.20" font-weight="bold" fill="#111">TBLCs</text>
<text transform="translate(142.2 426.5) scale(0.86 1)" text-anchor="start" font-family="Liberation Sans, sans-serif" font-size="4.20" font-weight="bold" fill="#111">4 Cell</text>
<text transform="translate(174.2 424.6) scale(0.86 1)" text-anchor="start" font-family="Liberation Sans, sans-serif" font-size="4.20" font-weight="bold" fill="#111">8 Cell</text>
<text transform="translate(174.2 431.9) scale(0.84 1)" text-anchor="start" font-family="Liberation Sans, sans-serif" font-size="4.20" font-weight="bold" fill="#111">8-16 Cell</text>
<text transform="translate(174.2 438.8) scale(0.86 1)" text-anchor="start" font-family="Liberation Sans, sans-serif" font-size="4.20" font-weight="bold" fill="#111">16 Cell</text>
<text transform="translate(104.1 447.9) scale(0.82 1)" text-anchor="start" font-family="Liberation Sans, sans-serif" font-size="4.20" font-weight="bold" fill="#111">Mid-Late Blastocyst</text>
<text transform="translate(153.0 451.5) scale(0.84 1)" text-anchor="start" font-family="Liberation Sans, sans-serif" font-size="4.20" font-weight="bold" fill="#111">Early-Mid Blastocyst</text>
<circle cx="43.7" cy="421.4" r="1.25" fill="#58b82a" stroke="#2c6a10" stroke-width="0.35"/>
<circle cx="90.4" cy="420.5" r="1.25" fill="#1f8fe0" stroke="#0b4f90" stroke-width="0.35"/>
<circle cx="83.3" cy="493.7" r="1.25" fill="#111" stroke="#000" stroke-width="0.35"/>
<circle cx="85.0" cy="493.3" r="1.25" fill="#d8343c" stroke="#7a1015" stroke-width="0.35"/>
<circle cx="136.5" cy="426.5" r="1.25" fill="#20c8d8" stroke="#0d7f8a" stroke-width="0.35"/>
<circle cx="138.8" cy="441.4" r="1.25" fill="#d8506a" stroke="#8a2035" stroke-width="0.35"/>
<circle cx="153.0" cy="444.3" r="1.25" fill="#0a0a0a" stroke="#000" stroke-width="0.35"/>
<circle cx="158.9" cy="437.3" r="1.25" fill="#e8b400" stroke="#6a5000" stroke-width="0.35"/>
<circle cx="157.5" cy="434.5" r="1.25" fill="#c020c8" stroke="#600868" stroke-width="0.35"/>
<text x="99.8" y="545.8" text-anchor="middle" font-family="Liberation Serif, serif" font-size="9.1" font-weight="bold" fill="#111">(E)</text>
<g shape-rendering="crispEdges">
<rect x="250.80" y="397.90" width="14.01" height="9.64" fill="#c8acb6"/>
<rect x="264.76" y="397.90" width="14.01" height="9.64" fill="#c6acb8"/>
<rect x="278.72" y="397.90" width="14.01" height="9.64" fill="#9cc2de"/>
<rect x="292.68" y="397.90" width="14.01" height="9.64" fill="#c4aebe"/>
<rect x="306.64" y="397.90" width="14.01" height="9.64" fill="#dca2a6"/>
<rect x="320.60" y="397.90" width="14.01" height="9.64" fill="#f2867a"/>
<rect x="334.56" y="397.90" width="14.01" height="9.64" fill="#f48278"/>
<rect x="348.52" y="397.90" width="14.01" height="9.64" fill="#f8786a"/>
<rect x="362.48" y="397.90" width="14.01" height="9.64" fill="#ff0800"/>
<rect x="376.44" y="397.90" width="14.01" height="9.64" fill="#ff0000"/>
<rect x="390.40" y="397.90" width="14.01" height="9.64" fill="#c4aeb8"/>
<rect x="250.80" y="407.49" width="14.01" height="9.64" fill="#dca4a4"/>
<rect x="264.76" y="407.49" width="14.01" height="9.64" fill="#dca4a4"/>
<rect x="278.72" y="407.49" width="14.01" height="9.64" fill="#b2b6c8"/>
<rect x="292.68" y="407.49" width="14.01" height="9.64" fill="#dca4a4"/>
<rect x="306.64" y="407.49" width="14.01" height="9.64" fill="#f87f72"/>
<rect x="320.60" y="407.49" width="14.01" height="9.64" fill="#ff5a3e"/>
<rect x="334.56" y="407.49" width="14.01" height="9.64" fill="#ff5238"/>
<rect x="348.52" y="407.49" width="14.01" height="9.64" fill="#ff4428"/>
<rect x="362.48" y="407.49" width="14.01" height="9.64" fill="#ff0000"/>
<rect x="376.44" y="407.49" width="14.01" height="9.64" fill="#ff0800"/>
<rect x="390.40" y="407.49" width="14.01" height="9.64" fill="#d2a8ac"/>
<rect x="250.80" y="417.08" width="14.01" height="9.64" fill="#d2a6ac"/>
<rect x="264.76" y="417.08" width="14.01" height="9.64" fill="#cea8b0"/>
<rect x="278.72" y="417.08" width="14.01" height="9.64" fill="#aeb8ce"/>
<rect x="292.68" y="417.08" width="14.01" height="9.64" fill="#ee8a84"/>
<rect x="306.64" y="417.08" width="14.01" height="9.64" fill="#ff3a20"/>
<rect x="320.60" y="417.08" width="14.01" height="9.64" fill="#ff0600"/>
<rect x="334.56" y="417.08" width="14.01" height="9.64" fill="#ff0000"/>
<rect x="348.52" y="417.08" width="14.01" height="9.64" fill="#ff0000"/>
<rect x="362.48" y="417.08" width="14.01" height="9.64" fill="#ff4c30"/>
<rect x="376.44" y="417.08" width="14.01" height="9.64" fill="#f88070"/>
<rect x="390.40" y="417.08" width="14.01" height="9.64" fill="#b2b4c6"/>
<rect x="250.80" y="426.67" width="14.01" height="9.64" fill="#d2a6ac"/>
<rect x="264.76" y="426.67" width="14.01" height="9.64" fill="#cea8b0"/>
<rect x="278.72" y="426.67" width="14.01" height="9.64" fill="#aeb8ce"/>
<rect x="292.68" y="426.67" width="14.01" height="9.64" fill="#ee8a84"/>
<rect x="306.64" y="426.67" width="14.01" height="9.64" fill="#ff3018"/>
<rect x="320.60" y="426.67" width="14.01" height="9.64" fill="#ff0200"/>
<rect x="334.56" y="426.67" width="14.01" height="9.64" fill="#ff0000"/>
<rect x="348.52" y="426.67" width="14.01" height="9.64" fill="#ff0000"/>
<rect x="362.48" y="426.67" width="14.01" height="9.64" fill="#ff5238"/>
<rect x="376.44" y="426.67" width="14.01" height="9.64" fill="#f4867a"/>
<rect x="390.40" y="426.67" width="14.01" height="9.64" fill="#b0b4c8"/>
<rect x="250.80" y="436.26" width="14.01" height="9.64" fill="#cea8ae"/>
<rect x="264.76" y="436.26" width="14.01" height="9.64" fill="#caaab4"/>
<rect x="278.72" y="436.26" width="14.01" height="9.64" fill="#aabad2"/>
<rect x="292.68" y="436.26" width="14.01" height="9.64" fill="#f08a80"/>
<rect x="306.64" y="436.26" width="14.01" height="9.64" fill="#ff3018"/>
<rect x="320.60" y="436.26" width="14.01" height="9.64" fill="#ff0000"/>
<rect x="334.56" y="436.26" width="14.01" height="9.64" fill="#ff0000"/>
<rect x="348.52" y="436.26" width="14.01" height="9.64" fill="#ff0000"/>
<rect x="362.48" y="436.26" width="14.01" height="9.64" fill="#ff5a40"/>
<rect x="376.44" y="436.26" width="14.01" height="9.64" fill="#f08a80"/>
<rect x="390.40" y="436.26" width="14.01" height="9.64" fill="#b0b4c8"/>
<rect x="250.80" y="445.85" width="14.01" height="9.64" fill="#c0b0be"/>
<rect x="264.76" y="445.85" width="14.01" height="9.64" fill="#bcb2c2"/>
<rect x="278.72" y="445.85" width="14.01" height="9.64" fill="#c2b0be"/>
<rect x="292.68" y="445.85" width="14.01" height="9.64" fill="#ff6046"/>
<rect x="306.64" y="445.85" width="14.01" height="9.64" fill="#ff0000"/>
<rect x="320.60" y="445.85" width="14.01" height="9.64" fill="#ff2a12"/>
<rect x="334.56" y="445.85" width="14.01" height="9.64" fill="#ff4228"/>
<rect x="348.52" y="445.85" width="14.01" height="9.64" fill="#ff4a30"/>
<rect x="362.48" y="445.85" width="14.01" height="9.64" fill="#f8807a"/>
<rect x="376.44" y="445.85" width="14.01" height="9.64" fill="#dfa0a4"/>
<rect x="390.40" y="445.85" width="14.01" height="9.64" fill="#9cc0dc"/>
<rect x="250.80" y="455.44" width="14.01" height="9.64" fill="#a8bcd2"/>
<rect x="264.76" y="455.44" width="14.01" height="9.64" fill="#a6bcd4"/>
<rect x="278.72" y="455.44" width="14.01" height="9.64" fill="#f08478"/>
<rect x="292.68" y="455.44" width="14.01" height="9.64" fill="#ff0000"/>
<rect x="306.64" y="455.44" width="14.01" height="9.64" fill="#ff6046"/>
<rect x="320.60" y="455.44" width="14.01" height="9.64" fill="#f08c82"/>
<rect x="334.56" y="455.44" width="14.01" height="9.64" fill="#ee8e86"/>
<rect x="348.52" y="455.44" width="14.01" height="9.64" fill="#ec8e88"/>
<rect x="362.48" y="455.44" width="14.01" height="9.64" fill="#dca2a6"/>
<rect x="376.44" y="455.44" width="14.01" height="9.64" fill="#c2b0be"/>
<rect x="390.40" y="455.44" width="14.01" height="9.64" fill="#88c6e8"/>
<rect x="250.80" y="465.03" width="14.01" height="9.64" fill="#76c8ec"/>
<rect x="264.76" y="465.03" width="14.01" height="9.64" fill="#78c8ea"/>
<rect x="278.72" y="465.03" width="14.01" height="9.64" fill="#ff0000"/>
<rect x="292.68" y="465.03" width="14.01" height="9.64" fill="#f48070"/>
<rect x="306.64" y="465.03" width="14.01" height="9.64" fill="#c2b0be"/>
<rect x="320.60" y="465.03" width="14.01" height="9.64" fill="#aabad2"/>
<rect x="334.56" y="465.03" width="14.01" height="9.64" fill="#a8bad2"/>
<rect x="348.52" y="465.03" width="14.01" height="9.64" fill="#a8bad2"/>
<rect x="362.48" y="465.03" width="14.01" height="9.64" fill="#aab8d0"/>
<rect x="376.44" y="465.03" width="14.01" height="9.64" fill="#9cc0dc"/>
<rect x="390.40" y="465.03" width="14.01" height="9.64" fill="#62ccf4"/>
<rect x="250.80" y="474.62" width="14.01" height="9.64" fill="#ff0000"/>
<rect x="264.76" y="474.62" width="14.01" height="9.64" fill="#ff0000"/>
<rect x="278.72" y="474.62" width="14.01" height="9.64" fill="#76c8ec"/>
<rect x="292.68" y="474.62" width="14.01" height="9.64" fill="#a8bcd2"/>
<rect x="306.64" y="474.62" width="14.01" height="9.64" fill="#beb0c0"/>
<rect x="320.60" y="474.62" width="14.01" height="9.64" fill="#d2a6ac"/>
<rect x="334.56" y="474.62" width="14.01" height="9.64" fill="#d2a6ac"/>
<rect x="348.52" y="474.62" width="14.01" height="9.64" fill="#d0a8ae"/>
<rect x="362.48" y="474.62" width="14.01" height="9.64" fill="#d8a4a8"/>
<rect x="376.44" y="474.62" width="14.01" height="9.64" fill="#c4acb6"/>
<rect x="390.40" y="474.62" width="14.01" height="9.64" fill="#ff2a10"/>
<rect x="250.80" y="484.21" width="14.01" height="9.64" fill="#ff0000"/>
<rect x="264.76" y="484.21" width="14.01" height="9.64" fill="#ff0800"/>
<rect x="278.72" y="484.21" width="14.01" height="9.64" fill="#78c8ea"/>
<rect x="292.68" y="484.21" width="14.01" height="9.64" fill="#a8bcd2"/>
<rect x="306.64" y="484.21" width="14.01" height="9.64" fill="#c0b0be"/>
<rect x="320.60" y="484.21" width="14.01" height="9.64" fill="#cea8ae"/>
<rect x="334.56" y="484.21" width="14.01" height="9.64" fill="#d0a8ae"/>
<rect x="348.52" y="484.21" width="14.01" height="9.64" fill="#d0a8ae"/>
<rect x="362.48" y="484.21" width="14.01" height="9.64" fill="#d6a6a8"/>
<rect x="376.44" y="484.21" width="14.01" height="9.64" fill="#c4acb6"/>
<rect x="390.40" y="484.21" width="14.01" height="9.64" fill="#ff6448"/>
</g>
<path d="M264.76 397.90 V493.80 M278.72 397.90 V493.80 M292.68 397.90 V493.80 M306.64 397.90 V493.80 M320.60 397.90 V493.80 M334.56 397.90 V493.80 M348.52 397.90 V493.80 M362.48 397.90 V493.80 M376.44 397.90 V493.80 M390.40 397.90 V493.80 M250.80 407.49 H404.36 M250.80 417.08 H404.36 M250.80 426.67 H404.36 M250.80 436.26 H404.36 M250.80 445.85 H404.36 M250.80 455.44 H404.36 M250.80 465.03 H404.36 M250.80 474.62 H404.36 M250.80 484.21 H404.36 " stroke="#fff" stroke-width="0.5" stroke-opacity="0.3" fill="none"/>
<g font-family="Liberation Sans, sans-serif" font-size="3.85" fill="#4d4d4d">
<text x="247.6" y="404.09" text-anchor="end">Mid-Late Blastocyst</text>
<text x="247.6" y="413.68" text-anchor="end">Early-Mid Blastocyst</text>
<text x="247.6" y="423.27" text-anchor="end">16 Cell</text>
<text x="247.6" y="432.86" text-anchor="end">8-16 Cell</text>
<text x="247.6" y="442.45" text-anchor="end">8 Cell</text>
<text x="247.6" y="452.04" text-anchor="end">4 Cell</text>
<text x="247.6" y="461.63" text-anchor="end">Mid-Late 2 Cell</text>
<text x="247.6" y="471.22" text-anchor="end">Early 2C and Zygote</text>
<text x="247.6" y="480.81" text-anchor="end">TBLCs</text>
<text x="247.6" y="490.40" text-anchor="end">ESCs</text>
<text transform="translate(259.18 497.6) rotate(-90)" text-anchor="end">ESCs</text>
<text transform="translate(273.14 497.6) rotate(-90)" text-anchor="end">TBLCs</text>
<text transform="translate(287.10 497.6) rotate(-90)" text-anchor="end">Early 2C and Zygote</text>
<text transform="translate(301.06 497.6) rotate(-90)" text-anchor="end">Mid-Late 2 Cell</text>
<text transform="translate(315.02 497.6) rotate(-90)" text-anchor="end">4 Cell</text>
<text transform="translate(328.98 497.6) rotate(-90)" text-anchor="end">8 Cell</text>
<text transform="translate(342.94 497.6) rotate(-90)" text-anchor="end">8-16 Cell</text>
<text transform="translate(356.90 497.6) rotate(-90)" text-anchor="end">16 Cell</text>
<text transform="translate(370.86 497.6) rotate(-90)" text-anchor="end">Early-Mid Blastocyst</text>
<text transform="translate(384.82 497.6) rotate(-90)" text-anchor="end">Mid-Late Blastocyst</text>
<text transform="translate(398.78 497.6) rotate(-90)" text-anchor="end">MEF</text>
</g>
<path d="M248.6 402.69 H250.2 M248.6 412.28 H250.2 M248.6 421.88 H250.2 M248.6 431.46 H250.2 M248.6 441.05 H250.2 M248.6 450.64 H250.2 M248.6 460.23 H250.2 M248.6 469.82 H250.2 M248.6 479.41 H250.2 M248.6 489.00 H250.2 M257.78 494.4 V496 M271.74 494.4 V496 M285.70 494.4 V496 M299.66 494.4 V496 M313.62 494.4 V496 M327.58 494.4 V496 M341.54 494.4 V496 M355.50 494.4 V496 M369.46 494.4 V496 M383.42 494.4 V496 M397.38 494.4 V496 " stroke="#555" stroke-width="0.4"/>
<defs><linearGradient id="cg" x1="0" y1="0" x2="0" y2="1"><stop offset="0" stop-color="#ff0000"/><stop offset="0.25" stop-color="#fa4a38"/><stop offset="0.5" stop-color="#ea8278"/><stop offset="0.75" stop-color="#c2aab8"/><stop offset="0.88" stop-color="#9cbcd6"/><stop offset="1" stop-color="#6ccaf0"/></linearGradient></defs>
<rect x="413.1" y="430.3" width="7.6" height="38.8" fill="url(#cg)"/>
<text x="413.3" y="427.2" font-family="Liberation Sans, sans-serif" font-size="5.1" fill="#222">correlation</text>
<g font-family="Liberation Sans, sans-serif" font-size="3.9" fill="#333"><text x="424.2" y="431.8">1.00</text><text x="424.2" y="441.4">0.75</text><text x="424.2" y="451.4">0.50</text><text x="424.2" y="461.1">0.25</text></g>
<text x="324.9" y="545.8" text-anchor="middle" font-family="Liberation Serif, serif" font-size="9.1" font-weight="bold" fill="#111">(F)</text>
</g>
</svg></body></html>
